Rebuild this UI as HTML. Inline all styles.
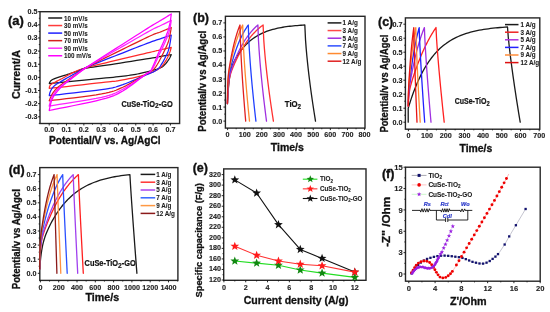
<!DOCTYPE html>
<html><head><meta charset="utf-8"><style>
html,body{margin:0;padding:0;background:#fff;}
body{width:550px;height:312px;overflow:hidden;font-family:"Liberation Sans", sans-serif;}
svg{display:block;will-change:transform;}
text{font-family:"Liberation Sans", sans-serif;font-weight:bold;}
</style></head><body>
<svg width="550" height="312" viewBox="0 0 550 312">
<rect width="550" height="312" fill="#fff"/>
<g fill="#111">
<rect x="40" y="11.7" width="139.6" height="111.8" fill="none" stroke="#262626" stroke-width="1.4"/>
<line x1="40" y1="123.37" x2="38.8" y2="123.37" stroke="#111" stroke-width="0.8"/>
<line x1="40" y1="110.23" x2="38.8" y2="110.23" stroke="#111" stroke-width="0.8"/>
<line x1="40" y1="97.09" x2="38.8" y2="97.09" stroke="#111" stroke-width="0.8"/>
<line x1="40" y1="83.96" x2="38.8" y2="83.96" stroke="#111" stroke-width="0.8"/>
<line x1="40" y1="70.82" x2="38.8" y2="70.82" stroke="#111" stroke-width="0.8"/>
<line x1="40" y1="57.68" x2="38.8" y2="57.68" stroke="#111" stroke-width="0.8"/>
<line x1="40" y1="44.54" x2="38.8" y2="44.54" stroke="#111" stroke-width="0.8"/>
<line x1="40" y1="31.41" x2="38.8" y2="31.41" stroke="#111" stroke-width="0.8"/>
<line x1="40" y1="18.27" x2="38.8" y2="18.27" stroke="#111" stroke-width="0.8"/>
<line x1="40" y1="116.8" x2="38" y2="116.8" stroke="#111" stroke-width="0.9"/>
<text x="37.6" y="119.3" font-size="7.2" fill="#222" text-anchor="end" stroke="#222" stroke-width="0.12">-0.3</text>
<line x1="40" y1="103.66" x2="38" y2="103.66" stroke="#111" stroke-width="0.9"/>
<text x="37.6" y="106.16" font-size="7.2" fill="#222" text-anchor="end" stroke="#222" stroke-width="0.12">-0.2</text>
<line x1="40" y1="90.52" x2="38" y2="90.52" stroke="#111" stroke-width="0.9"/>
<text x="37.6" y="93.02" font-size="7.2" fill="#222" text-anchor="end" stroke="#222" stroke-width="0.12">-0.1</text>
<line x1="40" y1="77.39" x2="38" y2="77.39" stroke="#111" stroke-width="0.9"/>
<text x="37.6" y="79.89" font-size="7.2" fill="#222" text-anchor="end" stroke="#222" stroke-width="0.12">0.0</text>
<line x1="40" y1="64.25" x2="38" y2="64.25" stroke="#111" stroke-width="0.9"/>
<text x="37.6" y="66.75" font-size="7.2" fill="#222" text-anchor="end" stroke="#222" stroke-width="0.12">0.1</text>
<line x1="40" y1="51.11" x2="38" y2="51.11" stroke="#111" stroke-width="0.9"/>
<text x="37.6" y="53.61" font-size="7.2" fill="#222" text-anchor="end" stroke="#222" stroke-width="0.12">0.2</text>
<line x1="40" y1="37.98" x2="38" y2="37.98" stroke="#111" stroke-width="0.9"/>
<text x="37.6" y="40.48" font-size="7.2" fill="#222" text-anchor="end" stroke="#222" stroke-width="0.12">0.3</text>
<line x1="40" y1="24.84" x2="38" y2="24.84" stroke="#111" stroke-width="0.9"/>
<text x="37.6" y="27.34" font-size="7.2" fill="#222" text-anchor="end" stroke="#222" stroke-width="0.12">0.4</text>
<line x1="40" y1="11.7" x2="38" y2="11.7" stroke="#111" stroke-width="0.9"/>
<text x="37.6" y="14.2" font-size="7.2" fill="#222" text-anchor="end" stroke="#222" stroke-width="0.12">0.5</text>
<line x1="57.86" y1="123.5" x2="57.86" y2="124.7" stroke="#111" stroke-width="0.8"/>
<line x1="75.17" y1="123.5" x2="75.17" y2="124.7" stroke="#111" stroke-width="0.8"/>
<line x1="92.49" y1="123.5" x2="92.49" y2="124.7" stroke="#111" stroke-width="0.8"/>
<line x1="109.8" y1="123.5" x2="109.8" y2="124.7" stroke="#111" stroke-width="0.8"/>
<line x1="127.11" y1="123.5" x2="127.11" y2="124.7" stroke="#111" stroke-width="0.8"/>
<line x1="144.43" y1="123.5" x2="144.43" y2="124.7" stroke="#111" stroke-width="0.8"/>
<line x1="161.74" y1="123.5" x2="161.74" y2="124.7" stroke="#111" stroke-width="0.8"/>
<line x1="49.2" y1="123.5" x2="49.2" y2="125.5" stroke="#111" stroke-width="0.9"/>
<text x="49.2" y="132.1" font-size="7.2" fill="#222" text-anchor="middle" stroke="#222" stroke-width="0.12">0.0</text>
<line x1="66.51" y1="123.5" x2="66.51" y2="125.5" stroke="#111" stroke-width="0.9"/>
<text x="66.51" y="132.1" font-size="7.2" fill="#222" text-anchor="middle" stroke="#222" stroke-width="0.12">0.1</text>
<line x1="83.83" y1="123.5" x2="83.83" y2="125.5" stroke="#111" stroke-width="0.9"/>
<text x="83.83" y="132.1" font-size="7.2" fill="#222" text-anchor="middle" stroke="#222" stroke-width="0.12">0.2</text>
<line x1="101.14" y1="123.5" x2="101.14" y2="125.5" stroke="#111" stroke-width="0.9"/>
<text x="101.14" y="132.1" font-size="7.2" fill="#222" text-anchor="middle" stroke="#222" stroke-width="0.12">0.3</text>
<line x1="118.46" y1="123.5" x2="118.46" y2="125.5" stroke="#111" stroke-width="0.9"/>
<text x="118.46" y="132.1" font-size="7.2" fill="#222" text-anchor="middle" stroke="#222" stroke-width="0.12">0.4</text>
<line x1="135.77" y1="123.5" x2="135.77" y2="125.5" stroke="#111" stroke-width="0.9"/>
<text x="135.77" y="132.1" font-size="7.2" fill="#222" text-anchor="middle" stroke="#222" stroke-width="0.12">0.5</text>
<line x1="153.09" y1="123.5" x2="153.09" y2="125.5" stroke="#111" stroke-width="0.9"/>
<text x="153.09" y="132.1" font-size="7.2" fill="#222" text-anchor="middle" stroke="#222" stroke-width="0.12">0.6</text>
<line x1="170.4" y1="123.5" x2="170.4" y2="125.5" stroke="#111" stroke-width="0.9"/>
<text x="170.4" y="132.1" font-size="7.2" fill="#222" text-anchor="middle" stroke="#222" stroke-width="0.12">0.7</text>
<text x="8" y="24.8" font-size="13" stroke="#111" stroke-width="0.35">(a)</text>
<text x="20.3" y="74.6" font-size="10.3" text-anchor="middle" transform="rotate(-90 20.3 74.6)" textLength="49" lengthAdjust="spacingAndGlyphs" stroke="#111" stroke-width="0.3">Current/A</text>
<text x="104.8" y="143.8" font-size="10" text-anchor="middle" textLength="111.5" lengthAdjust="spacingAndGlyphs" stroke="#111" stroke-width="0.3">Potential/V vs. Ag/AgCl</text>
<polyline points="49.2,83.56 49.31,83.34 49.44,83.05 49.6,82.69 49.78,82.31 49.98,81.9 50.22,81.5 50.48,81.13 50.77,80.8 51.08,80.52 51.42,80.26 51.78,80.01 52.18,79.77 52.6,79.54 53.05,79.31 53.55,79.07 54.08,78.83 54.66,78.59 55.29,78.34 55.96,78.1 56.65,77.86 57.38,77.61 58.13,77.36 58.89,77.11 59.66,76.86 60.43,76.61 61.2,76.37 61.99,76.14 62.79,75.89 63.63,75.64 64.51,75.37 65.45,75.08 66.46,74.76 67.56,74.41 68.75,74.02 70,73.61 71.29,73.18 72.6,72.75 73.91,72.32 75.18,71.89 76.4,71.48 77.47,71.08 78.35,70.69 79.15,70.31 79.98,69.93 80.92,69.55 82.08,69.15 83.57,68.75 85.47,68.32 87.76,67.89 90.32,67.47 93.15,67.05 96.23,66.61 99.54,66.14 103.07,65.65 106.82,65.11 110.76,64.51 115.19,63.83 120.25,63.04 125.7,62.19 131.28,61.31 136.75,60.45 141.85,59.64 146.35,58.92 149.99,58.34 152.71,57.89 154.7,57.54 156.14,57.28 157.2,57.07 158.02,56.9 158.79,56.74 159.66,56.57 160.8,56.37 162.2,56.13 163.69,55.88 165.21,55.63 166.71,55.39 168.12,55.16 169.39,54.96 170.46,54.79 171.27,54.66 171.11,55 170.91,55.43 170.67,55.96 170.4,56.54 170.1,57.17 169.77,57.82 169.4,58.48 169,59.13 168.56,59.79 168.09,60.5 167.58,61.24 167.04,62 166.47,62.75 165.88,63.47 165.27,64.16 164.64,64.78 164.07,65.32 163.58,65.81 163.1,66.25 162.59,66.67 161.97,67.08 161.19,67.51 160.18,67.96 158.88,68.45 157.24,69.01 155.26,69.61 153.05,70.24 150.68,70.88 148.23,71.52 145.79,72.12 143.45,72.69 141.27,73.18 139.31,73.61 137.49,73.99 135.75,74.32 134.02,74.63 132.25,74.92 130.35,75.2 128.26,75.5 125.93,75.81 123.5,76.12 121.12,76.41 118.66,76.69 116.03,76.97 113.11,77.27 109.79,77.61 105.96,77.99 101.51,78.44 95.95,78.99 89.17,79.66 81.64,80.4 73.83,81.16 66.21,81.91 59.25,82.58 53.43,83.15 49.2,83.56" fill="none" stroke="#1a1a1a" stroke-width="1.25" stroke-linejoin="round" stroke-linecap="round" />
<polyline points="49.2,88.42 49.25,88.2 49.3,87.9 49.35,87.54 49.42,87.14 49.52,86.72 49.65,86.3 49.83,85.9 50.07,85.53 50.35,85.2 50.64,84.9 50.96,84.61 51.33,84.32 51.75,84.01 52.26,83.69 52.86,83.32 53.56,82.91 54.39,82.44 55.35,81.94 56.41,81.4 57.54,80.84 58.72,80.25 59.91,79.65 61.11,79.05 62.28,78.44 63.41,77.82 64.51,77.18 65.62,76.53 66.75,75.87 67.92,75.2 69.14,74.52 70.46,73.85 71.87,73.18 73.27,72.54 74.6,71.91 75.94,71.29 77.37,70.67 78.99,70.02 80.88,69.34 83.13,68.6 85.82,67.8 89.06,66.91 92.8,65.94 96.93,64.91 101.32,63.85 105.84,62.77 110.37,61.7 114.78,60.65 118.95,59.65 123.07,58.66 127.33,57.64 131.63,56.62 135.87,55.62 139.93,54.66 143.7,53.77 147.09,52.98 149.99,52.29 152.31,51.75 154.12,51.33 155.54,51 156.68,50.73 157.66,50.51 158.6,50.3 159.61,50.07 160.8,49.8 162.2,49.48 163.69,49.14 165.21,48.8 166.71,48.46 168.12,48.14 169.39,47.86 170.46,47.62 171.27,47.43 171.15,47.84 171,48.37 170.83,49 170.63,49.7 170.41,50.47 170.15,51.28 169.85,52.11 169.52,52.95 169.16,53.82 168.78,54.76 168.37,55.73 167.92,56.75 167.43,57.77 166.9,58.81 166.32,59.83 165.69,60.83 165.03,61.83 164.39,62.84 163.71,63.85 162.98,64.87 162.17,65.87 161.23,66.85 160.15,67.8 158.88,68.72 157.46,69.6 155.92,70.46 154.25,71.29 152.45,72.1 150.52,72.89 148.45,73.66 146.24,74.42 143.89,75.15 141.29,75.89 138.41,76.62 135.34,77.34 132.16,78.04 128.95,78.71 125.8,79.34 122.79,79.9 120,80.41 117.66,80.81 115.79,81.1 114.16,81.31 112.53,81.49 110.69,81.68 108.39,81.91 105.41,82.21 101.51,82.64 96.24,83.23 89.59,83.97 82.07,84.8 74.2,85.67 66.47,86.52 59.39,87.3 53.47,87.95 49.2,88.42" fill="none" stroke="#ff2a2a" stroke-width="1.25" stroke-linejoin="round" stroke-linecap="round" />
<polyline points="49.2,95.65 49.26,95.39 49.33,95.05 49.41,94.64 49.51,94.19 49.62,93.7 49.75,93.2 49.9,92.71 50.07,92.23 50.27,91.76 50.48,91.27 50.71,90.77 50.97,90.26 51.24,89.75 51.53,89.25 51.84,88.76 52.16,88.29 52.51,87.84 52.86,87.4 53.23,86.97 53.61,86.54 54.03,86.12 54.47,85.71 54.96,85.29 55.48,84.88 56.04,84.46 56.65,84.06 57.28,83.67 57.95,83.27 58.65,82.88 59.37,82.46 60.12,82.04 60.88,81.59 61.67,81.12 62.48,80.64 63.32,80.15 64.17,79.65 65.06,79.13 65.97,78.6 66.9,78.06 67.86,77.52 68.84,76.97 69.84,76.4 70.86,75.83 71.91,75.25 72.99,74.66 74.1,74.05 75.23,73.43 76.4,72.79 77.47,72.18 78.38,71.61 79.24,71.05 80.16,70.47 81.27,69.82 82.68,69.07 84.51,68.19 86.87,67.14 89.85,65.88 93.39,64.44 97.36,62.85 101.62,61.17 106.05,59.44 110.5,57.7 114.84,56.01 118.95,54.4 123.02,52.8 127.26,51.13 131.56,49.45 135.8,47.79 139.88,46.2 143.68,44.73 147.09,43.41 149.99,42.31 152.31,41.45 154.12,40.8 155.54,40.31 156.68,39.94 157.66,39.63 158.6,39.35 159.61,39.03 160.8,38.63 162.2,38.16 163.69,37.65 165.21,37.14 166.71,36.63 168.12,36.15 169.39,35.72 170.46,35.36 171.27,35.08 171.18,35.71 171.07,36.54 170.94,37.52 170.79,38.62 170.63,39.78 170.45,40.97 170.25,42.13 170.05,43.23 169.84,44.27 169.65,45.3 169.45,46.33 169.23,47.38 168.98,48.44 168.68,49.55 168.31,50.69 167.87,51.9 167.32,53.21 166.69,54.62 165.99,56.09 165.24,57.59 164.47,59.08 163.69,60.51 162.93,61.86 162.2,63.07 161.55,64.15 160.96,65.13 160.41,66.04 159.85,66.89 159.23,67.69 158.51,68.47 157.66,69.25 156.62,70.03 155.45,70.78 154.2,71.46 152.86,72.11 151.4,72.74 149.79,73.4 148.02,74.11 146.06,74.9 143.89,75.81 141.4,76.89 138.57,78.13 135.51,79.47 132.3,80.85 129.05,82.22 125.85,83.52 122.8,84.69 120,85.66 117.66,86.43 115.79,87.02 114.16,87.48 112.53,87.87 110.69,88.23 108.39,88.61 105.41,89.05 101.51,89.61 96.24,90.3 89.59,91.11 82.07,91.98 74.2,92.87 66.47,93.73 59.39,94.51 53.47,95.17 49.2,95.65" fill="none" stroke="#1f1fff" stroke-width="1.25" stroke-linejoin="round" stroke-linecap="round" />
<polyline points="49.2,100.77 49.31,100.48 49.46,100.11 49.63,99.66 49.82,99.16 50.04,98.63 50.27,98.07 50.51,97.51 50.77,96.96 51.04,96.41 51.31,95.84 51.6,95.25 51.91,94.65 52.24,94.04 52.6,93.43 52.98,92.82 53.39,92.23 53.82,91.65 54.28,91.08 54.76,90.5 55.26,89.93 55.79,89.36 56.35,88.79 56.94,88.21 57.57,87.63 58.22,87.06 58.87,86.51 59.55,85.96 60.26,85.41 61.02,84.84 61.83,84.24 62.71,83.6 63.67,82.91 64.71,82.17 65.81,81.39 66.97,80.59 68.2,79.75 69.47,78.88 70.81,77.98 72.19,77.04 73.61,76.07 74.98,75.11 76.25,74.15 77.51,73.19 78.86,72.18 80.37,71.1 82.15,69.92 84.29,68.61 86.87,67.14 89.98,65.47 93.59,63.61 97.56,61.61 101.8,59.51 106.17,57.37 110.56,55.22 114.86,53.12 118.95,51.11 123.02,49.11 127.26,47.02 131.56,44.9 135.8,42.82 139.88,40.83 143.68,38.99 147.09,37.36 149.99,36 152.31,34.96 154.12,34.19 155.54,33.64 156.68,33.23 157.66,32.91 158.6,32.61 159.61,32.26 160.8,31.8 162.2,31.24 163.69,30.62 165.21,29.99 166.71,29.37 168.12,28.78 169.39,28.25 170.46,27.8 171.27,27.46 171.16,28.07 171.03,28.88 170.88,29.84 170.7,30.91 170.51,32.05 170.3,33.19 170.09,34.31 169.87,35.35 169.67,36.3 169.49,37.19 169.31,38.07 169.12,38.96 168.89,39.89 168.6,40.89 168.24,41.99 167.78,43.23 167.21,44.63 166.55,46.18 165.82,47.83 165.03,49.55 164.2,51.31 163.36,53.05 162.51,54.75 161.67,56.37 160.85,57.95 160.01,59.56 159.16,61.17 158.3,62.76 157.42,64.28 156.53,65.71 155.62,67.02 154.7,68.19 153.87,69.13 153.18,69.83 152.53,70.37 151.84,70.84 151.02,71.33 149.98,71.91 148.62,72.68 146.85,73.71 144.6,75.06 141.91,76.69 138.89,78.5 135.66,80.4 132.32,82.31 128.99,84.15 125.77,85.82 122.79,87.24 120.21,88.4 118,89.39 115.97,90.25 113.92,91.01 111.64,91.72 108.95,92.42 105.64,93.14 101.51,93.94 96.1,94.84 89.39,95.8 81.87,96.79 74.03,97.78 66.35,98.71 59.33,99.54 53.45,100.24 49.2,100.77" fill="none" stroke="#e01e1e" stroke-width="1.25" stroke-linejoin="round" stroke-linecap="round" />
<polyline points="49.2,106.03 49.34,105.48 49.53,104.73 49.75,103.84 50,102.86 50.26,101.84 50.54,100.83 50.83,99.89 51.12,99.06 51.4,98.35 51.69,97.68 51.98,97.05 52.28,96.45 52.61,95.87 52.95,95.28 53.33,94.69 53.73,94.07 54.17,93.44 54.63,92.8 55.12,92.15 55.63,91.51 56.17,90.87 56.73,90.22 57.31,89.58 57.92,88.95 58.56,88.32 59.22,87.69 59.92,87.07 60.63,86.44 61.37,85.82 62.12,85.2 62.89,84.58 63.67,83.96 64.41,83.38 65.08,82.87 65.73,82.38 66.41,81.89 67.18,81.34 68.08,80.69 69.16,79.91 70.47,78.96 71.96,77.86 73.53,76.65 75.23,75.33 77.09,73.91 79.15,72.37 81.44,70.74 84,68.99 86.87,67.14 90.13,65.13 93.81,62.94 97.79,60.6 101.99,58.18 106.31,55.71 110.64,53.24 114.88,50.82 118.95,48.48 123.02,46.14 127.26,43.69 131.56,41.22 135.8,38.78 139.88,36.45 143.68,34.28 147.09,32.36 149.99,30.75 152.31,29.49 154.12,28.56 155.54,27.86 156.68,27.33 157.66,26.91 158.6,26.51 159.61,26.06 160.8,25.49 162.2,24.81 163.69,24.08 165.21,23.34 166.71,22.6 168.12,21.91 169.39,21.29 170.46,20.77 171.27,20.37 171.17,21.01 171.05,21.86 170.91,22.87 170.75,24 170.57,25.2 170.36,26.42 170.13,27.63 169.87,28.78 169.6,29.85 169.33,30.88 169.05,31.91 168.74,32.96 168.38,34.06 167.97,35.24 167.48,36.54 166.91,37.98 166.23,39.58 165.46,41.32 164.61,43.18 163.7,45.12 162.76,47.11 161.81,49.12 160.86,51.12 159.93,53.08 159.01,55.1 158.06,57.23 157.09,59.42 156.12,61.6 155.15,63.7 154.21,65.65 153.3,67.39 152.43,68.85 151.74,69.92 151.26,70.61 150.88,71.05 150.48,71.37 149.96,71.68 149.2,72.12 148.09,72.79 146.5,73.84 144.37,75.31 141.77,77.12 138.81,79.16 135.61,81.33 132.28,83.52 128.96,85.63 125.76,87.56 122.79,89.21 120.22,90.57 118.03,91.74 116,92.77 113.94,93.7 111.66,94.58 108.96,95.45 105.64,96.36 101.51,97.36 96.1,98.47 89.39,99.69 81.87,100.95 74.03,102.2 66.35,103.39 59.33,104.46 53.45,105.35 49.2,106.03" fill="none" stroke="#ff22ff" stroke-width="1.25" stroke-linejoin="round" stroke-linecap="round" />
<polyline points="49.2,110.49 49.37,109.74 49.6,108.7 49.87,107.46 50.17,106.1 50.49,104.7 50.82,103.34 51.15,102.09 51.47,101.03 51.77,100.17 52.06,99.4 52.35,98.72 52.65,98.09 52.97,97.49 53.31,96.9 53.68,96.29 54.08,95.65 54.52,94.98 54.99,94.3 55.48,93.63 56,92.96 56.54,92.28 57.1,91.61 57.68,90.94 58.27,90.26 58.88,89.59 59.5,88.92 60.14,88.24 60.81,87.57 61.49,86.9 62.2,86.22 62.92,85.55 63.67,84.88 64.39,84.25 65.05,83.69 65.7,83.16 66.39,82.62 67.16,82.02 68.07,81.33 69.16,80.5 70.47,79.49 71.96,78.34 73.53,77.09 75.23,75.73 77.09,74.27 79.15,72.68 81.44,70.97 84,69.13 86.87,67.14 90.13,64.95 93.81,62.54 97.79,59.97 101.99,57.29 106.31,54.55 110.64,51.8 114.88,49.11 118.95,46.51 123.02,43.92 127.26,41.21 131.56,38.47 135.8,35.77 139.88,33.19 143.68,30.78 147.09,28.63 149.99,26.81 152.31,25.37 154.12,24.27 155.54,23.42 156.68,22.76 157.66,22.2 158.6,21.67 159.61,21.08 160.8,20.37 162.2,19.52 163.69,18.61 165.21,17.67 166.71,16.75 168.12,15.88 169.39,15.09 170.46,14.43 171.27,13.93 171.17,14.66 171.06,15.61 170.93,16.74 170.78,18.01 170.6,19.36 170.39,20.76 170.15,22.17 169.87,23.52 169.57,24.83 169.26,26.14 168.93,27.45 168.56,28.81 168.14,30.23 167.66,31.73 167.1,33.34 166.45,35.08 165.69,36.99 164.82,39.04 163.86,41.2 162.85,43.45 161.8,45.75 160.74,48.05 159.7,50.33 158.71,52.56 157.73,54.83 156.73,57.24 155.71,59.7 154.71,62.13 153.72,64.46 152.77,66.6 151.87,68.49 151.04,70.03 150.4,71.09 150.01,71.69 149.75,71.98 149.48,72.11 149.09,72.23 148.46,72.5 147.46,73.08 145.98,74.1 143.94,75.65 141.41,77.61 138.53,79.84 135.4,82.23 132.14,84.66 128.88,87 125.72,89.13 122.79,90.92 120.25,92.37 118.06,93.58 116.03,94.62 113.97,95.55 111.68,96.44 108.97,97.34 105.65,98.33 101.51,99.46 96.1,100.79 89.39,102.3 81.87,103.9 74.03,105.51 66.35,107.05 59.33,108.45 53.45,109.63 49.2,110.49" fill="none" stroke="#ff00ff" stroke-width="1.25" stroke-linejoin="round" stroke-linecap="round" />
<line x1="48.2" y1="18" x2="62.2" y2="18" stroke="#1a1a1a" stroke-width="1.5"/>
<text x="64" y="20.6" font-size="6.7" fill="#222" textLength="23.82" lengthAdjust="spacingAndGlyphs" stroke="#222" stroke-width="0.08">10 mV/s</text>
<line x1="48.2" y1="25.55" x2="62.2" y2="25.55" stroke="#ff3b3b" stroke-width="1.5"/>
<text x="64" y="28.15" font-size="6.7" fill="#222" textLength="23.82" lengthAdjust="spacingAndGlyphs" stroke="#222" stroke-width="0.08">30 mV/s</text>
<line x1="48.2" y1="33.1" x2="62.2" y2="33.1" stroke="#1f1fff" stroke-width="1.5"/>
<text x="64" y="35.7" font-size="6.7" fill="#222" textLength="23.82" lengthAdjust="spacingAndGlyphs" stroke="#222" stroke-width="0.08">50 mV/s</text>
<line x1="48.2" y1="40.65" x2="62.2" y2="40.65" stroke="#d42020" stroke-width="1.5"/>
<text x="64" y="43.25" font-size="6.7" fill="#222" textLength="23.82" lengthAdjust="spacingAndGlyphs" stroke="#222" stroke-width="0.08">70 mV/s</text>
<line x1="48.2" y1="48.2" x2="62.2" y2="48.2" stroke="#ff33ff" stroke-width="1.5"/>
<text x="64" y="50.8" font-size="6.7" fill="#222" textLength="23.82" lengthAdjust="spacingAndGlyphs" stroke="#222" stroke-width="0.08">90 mV/s</text>
<line x1="48.2" y1="55.75" x2="62.2" y2="55.75" stroke="#ff00ff" stroke-width="1.5"/>
<text x="64" y="58.35" font-size="6.7" fill="#222" textLength="27.32" lengthAdjust="spacingAndGlyphs" stroke="#222" stroke-width="0.08">100 mV/s</text>
<text x="121.5" y="106.5" font-size="8.2" textLength="51.2" lengthAdjust="spacingAndGlyphs" stroke="#111" stroke-width="0.22">CuSe-TiO<tspan dy="1.6" font-size="7.4">2</tspan><tspan dy="-1.6">-GO</tspan></text>
<rect x="225.4" y="16.3" width="139.6" height="111.8" fill="none" stroke="#262626" stroke-width="1.4"/>
<line x1="225.4" y1="114.09" x2="224.2" y2="114.09" stroke="#111" stroke-width="0.8"/>
<line x1="225.4" y1="100.06" x2="224.2" y2="100.06" stroke="#111" stroke-width="0.8"/>
<line x1="225.4" y1="86.03" x2="224.2" y2="86.03" stroke="#111" stroke-width="0.8"/>
<line x1="225.4" y1="72" x2="224.2" y2="72" stroke="#111" stroke-width="0.8"/>
<line x1="225.4" y1="57.97" x2="224.2" y2="57.97" stroke="#111" stroke-width="0.8"/>
<line x1="225.4" y1="43.94" x2="224.2" y2="43.94" stroke="#111" stroke-width="0.8"/>
<line x1="225.4" y1="29.91" x2="224.2" y2="29.91" stroke="#111" stroke-width="0.8"/>
<line x1="225.4" y1="121.1" x2="223.4" y2="121.1" stroke="#111" stroke-width="0.9"/>
<text x="222.3" y="123.6" font-size="7.2" fill="#222" text-anchor="end" stroke="#222" stroke-width="0.12">0.0</text>
<line x1="225.4" y1="107.07" x2="223.4" y2="107.07" stroke="#111" stroke-width="0.9"/>
<text x="222.3" y="109.57" font-size="7.2" fill="#222" text-anchor="end" stroke="#222" stroke-width="0.12">0.1</text>
<line x1="225.4" y1="93.04" x2="223.4" y2="93.04" stroke="#111" stroke-width="0.9"/>
<text x="222.3" y="95.54" font-size="7.2" fill="#222" text-anchor="end" stroke="#222" stroke-width="0.12">0.2</text>
<line x1="225.4" y1="79.01" x2="223.4" y2="79.01" stroke="#111" stroke-width="0.9"/>
<text x="222.3" y="81.51" font-size="7.2" fill="#222" text-anchor="end" stroke="#222" stroke-width="0.12">0.3</text>
<line x1="225.4" y1="64.99" x2="223.4" y2="64.99" stroke="#111" stroke-width="0.9"/>
<text x="222.3" y="67.49" font-size="7.2" fill="#222" text-anchor="end" stroke="#222" stroke-width="0.12">0.4</text>
<line x1="225.4" y1="50.96" x2="223.4" y2="50.96" stroke="#111" stroke-width="0.9"/>
<text x="222.3" y="53.46" font-size="7.2" fill="#222" text-anchor="end" stroke="#222" stroke-width="0.12">0.5</text>
<line x1="225.4" y1="36.93" x2="223.4" y2="36.93" stroke="#111" stroke-width="0.9"/>
<text x="222.3" y="39.43" font-size="7.2" fill="#222" text-anchor="end" stroke="#222" stroke-width="0.12">0.6</text>
<line x1="225.4" y1="22.9" x2="223.4" y2="22.9" stroke="#111" stroke-width="0.9"/>
<text x="222.3" y="25.4" font-size="7.2" fill="#222" text-anchor="end" stroke="#222" stroke-width="0.12">0.7</text>
<line x1="236.16" y1="128.1" x2="236.16" y2="129.3" stroke="#111" stroke-width="0.8"/>
<line x1="253.29" y1="128.1" x2="253.29" y2="129.3" stroke="#111" stroke-width="0.8"/>
<line x1="270.41" y1="128.1" x2="270.41" y2="129.3" stroke="#111" stroke-width="0.8"/>
<line x1="287.54" y1="128.1" x2="287.54" y2="129.3" stroke="#111" stroke-width="0.8"/>
<line x1="304.66" y1="128.1" x2="304.66" y2="129.3" stroke="#111" stroke-width="0.8"/>
<line x1="321.79" y1="128.1" x2="321.79" y2="129.3" stroke="#111" stroke-width="0.8"/>
<line x1="338.91" y1="128.1" x2="338.91" y2="129.3" stroke="#111" stroke-width="0.8"/>
<line x1="356.04" y1="128.1" x2="356.04" y2="129.3" stroke="#111" stroke-width="0.8"/>
<line x1="227.6" y1="128.1" x2="227.6" y2="130.1" stroke="#111" stroke-width="0.9"/>
<text x="227.6" y="136.7" font-size="7.2" fill="#222" text-anchor="middle" stroke="#222" stroke-width="0.12">0</text>
<line x1="244.72" y1="128.1" x2="244.72" y2="130.1" stroke="#111" stroke-width="0.9"/>
<text x="244.72" y="136.7" font-size="7.2" fill="#222" text-anchor="middle" stroke="#222" stroke-width="0.12">100</text>
<line x1="261.85" y1="128.1" x2="261.85" y2="130.1" stroke="#111" stroke-width="0.9"/>
<text x="261.85" y="136.7" font-size="7.2" fill="#222" text-anchor="middle" stroke="#222" stroke-width="0.12">200</text>
<line x1="278.98" y1="128.1" x2="278.98" y2="130.1" stroke="#111" stroke-width="0.9"/>
<text x="278.98" y="136.7" font-size="7.2" fill="#222" text-anchor="middle" stroke="#222" stroke-width="0.12">300</text>
<line x1="296.1" y1="128.1" x2="296.1" y2="130.1" stroke="#111" stroke-width="0.9"/>
<text x="296.1" y="136.7" font-size="7.2" fill="#222" text-anchor="middle" stroke="#222" stroke-width="0.12">400</text>
<line x1="313.23" y1="128.1" x2="313.23" y2="130.1" stroke="#111" stroke-width="0.9"/>
<text x="313.23" y="136.7" font-size="7.2" fill="#222" text-anchor="middle" stroke="#222" stroke-width="0.12">500</text>
<line x1="330.35" y1="128.1" x2="330.35" y2="130.1" stroke="#111" stroke-width="0.9"/>
<text x="330.35" y="136.7" font-size="7.2" fill="#222" text-anchor="middle" stroke="#222" stroke-width="0.12">600</text>
<line x1="347.48" y1="128.1" x2="347.48" y2="130.1" stroke="#111" stroke-width="0.9"/>
<text x="347.48" y="136.7" font-size="7.2" fill="#222" text-anchor="middle" stroke="#222" stroke-width="0.12">700</text>
<line x1="364.6" y1="128.1" x2="364.6" y2="130.1" stroke="#111" stroke-width="0.9"/>
<text x="364.6" y="136.7" font-size="7.2" fill="#222" text-anchor="middle" stroke="#222" stroke-width="0.12">800</text>
<text x="193" y="21.6" font-size="12.5" stroke="#111" stroke-width="0.35">(b)</text>
<text x="206.5" y="81.2" font-size="10" text-anchor="middle" transform="rotate(-90 206.5 81.2)" textLength="101" lengthAdjust="spacingAndGlyphs" stroke="#111" stroke-width="0.3">Potential/v vs Ag/Agcl</text>
<text x="287.3" y="150.7" font-size="10.4" text-anchor="middle" textLength="33.1" lengthAdjust="spacingAndGlyphs" stroke="#111" stroke-width="0.3">Time/s</text>
<text x="284.8" y="106.6" font-size="8.7" textLength="16.3" lengthAdjust="spacingAndGlyphs" stroke="#111" stroke-width="0.22">TiO<tspan dy="1.9" font-size="7">2</tspan></text>
<polyline points="227.43,103.56 227.6,100.3 227.9,95.06 228.29,89.46 228.76,84.18 229.29,79.52 229.88,75.54 230.51,72.19 231.2,69.36 231.93,66.93 232.7,64.79 233.5,62.85 234.35,61.05 235.24,59.35 236.15,57.71 237.1,56.12 238.09,54.58 239.1,53.07 240.15,51.61 241.22,50.18 242.33,48.79 243.46,47.44 244.61,46.13 245.8,44.87 247.01,43.66 248.25,42.49 249.51,41.37 250.79,40.3 252.11,39.28 253.44,38.3 254.8,37.37 256.18,36.48 257.58,35.64 259,34.84 260.45,34.09 261.91,33.38 263.4,32.71 264.91,32.07 266.44,31.48 267.99,30.92 269.56,30.39 271.15,29.9 272.76,29.44 274.39,29.01 276.04,28.61 277.7,28.24 279.39,27.89 281.09,27.56 282.82,27.26 284.56,26.98 286.31,26.72 288.09,26.48 289.88,26.26 291.69,26.05 293.52,25.87 295.36,25.69 297.22,25.53 299.1,25.38 301,25.24 302.91,25.12 304.83,25 305.5,39.59 306.17,48.37 306.83,55.79 307.5,62.44 308.17,68.58 308.83,74.33 309.5,79.78 310.17,84.98 310.83,89.99 311.5,94.81 312.17,99.49 312.83,104.03 313.5,108.45 314.17,112.76 314.83,116.97 315.5,121.1" fill="none" stroke="#1a1a1a" stroke-width="1.3" stroke-linejoin="round" stroke-linecap="round" />
<polyline points="227.43,103.56 227.51,101.57 227.65,98.3 227.83,94.67 228.04,91.11 228.29,87.83 228.56,84.92 228.85,82.39 229.17,80.22 229.5,78.33 229.86,76.68 230.23,75.2 230.62,73.83 231.03,72.55 231.45,71.33 231.89,70.13 232.34,68.95 232.81,67.78 233.29,66.6 233.79,65.43 234.29,64.26 234.81,63.08 235.35,61.9 235.89,60.72 236.45,59.54 237.02,58.36 237.6,57.19 238.2,56.01 238.8,54.85 239.42,53.69 240.04,52.54 240.68,51.4 241.32,50.27 241.98,49.16 242.65,48.05 243.32,46.96 244.01,45.88 244.7,44.81 245.41,43.76 246.12,42.72 246.85,41.7 247.58,40.7 248.32,39.71 249.07,38.74 249.83,37.79 250.6,36.86 251.37,35.94 252.16,35.04 252.95,34.16 253.75,33.29 254.56,32.45 255.38,31.62 256.21,30.81 257.04,30.02 257.89,29.25 258.74,28.5 259.59,27.77 260.46,27.05 261.33,26.35 262.21,25.67 263.1,25 263.74,39.59 264.39,48.37 265.03,55.79 265.68,62.44 266.32,68.58 266.96,74.33 267.61,79.78 268.25,84.98 268.89,89.99 269.54,94.81 270.18,99.49 270.82,104.03 271.47,108.45 272.11,112.76 272.76,116.97 273.4,121.1" fill="none" stroke="#ff3030" stroke-width="1.3" stroke-linejoin="round" stroke-linecap="round" />
<polyline points="227.43,103.56 227.49,101.57 227.61,98.3 227.77,94.67 227.95,91.11 228.16,87.83 228.39,84.92 228.64,82.39 228.91,80.22 229.2,78.33 229.5,76.68 229.82,75.2 230.15,73.83 230.5,72.55 230.86,71.33 231.24,70.13 231.62,68.95 232.02,67.78 232.44,66.6 232.86,65.43 233.29,64.26 233.74,63.08 234.19,61.9 234.66,60.72 235.14,59.54 235.62,58.36 236.12,57.19 236.63,56.01 237.14,54.85 237.67,53.69 238.2,52.54 238.75,51.4 239.3,50.27 239.86,49.16 240.43,48.05 241,46.96 241.59,45.88 242.18,44.81 242.79,43.76 243.4,42.72 244.02,41.7 244.64,40.7 245.27,39.71 245.92,38.74 246.56,37.79 247.22,36.86 247.88,35.94 248.55,35.04 249.23,34.16 249.92,33.29 250.61,32.45 251.31,31.62 252.01,30.81 252.73,30.02 253.45,29.25 254.17,28.5 254.9,27.77 255.64,27.05 256.39,26.35 257.14,25.67 257.9,25 258.44,39.59 258.97,48.37 259.51,55.79 260.05,62.44 260.59,68.58 261.12,74.33 261.66,79.78 262.2,84.98 262.74,89.99 263.27,94.81 263.81,99.49 264.35,104.03 264.89,108.45 265.43,112.76 265.96,116.97 266.5,121.1" fill="none" stroke="#a030e0" stroke-width="1.3" stroke-linejoin="round" stroke-linecap="round" />
<polyline points="227.43,103.56 227.47,101.49 227.56,98.1 227.66,94.35 227.79,90.68 227.93,87.33 228.09,84.37 228.26,81.82 228.44,79.65 228.64,77.79 228.85,76.18 229.07,74.75 229.3,73.45 229.53,72.24 229.78,71.09 230.04,69.97 230.3,68.87 230.58,67.77 230.86,66.67 231.15,65.57 231.45,64.47 231.75,63.36 232.06,62.24 232.38,61.13 232.71,60 233.04,58.88 233.38,57.76 233.73,56.63 234.08,55.51 234.44,54.4 234.81,53.28 235.18,52.17 235.56,51.07 235.94,49.97 236.33,48.89 236.73,47.81 237.13,46.74 237.54,45.68 237.95,44.63 238.37,43.59 238.79,42.56 239.22,41.54 239.65,40.54 240.09,39.55 240.54,38.58 240.99,37.62 241.44,36.67 241.9,35.74 242.36,34.82 242.83,33.92 243.31,33.03 243.78,32.16 244.27,31.3 244.76,30.46 245.25,29.63 245.75,28.82 246.25,28.03 246.75,27.25 247.27,26.48 247.78,25.74 248.3,25 248.78,39.59 249.25,48.37 249.73,55.79 250.2,62.44 250.68,68.58 251.15,74.33 251.62,79.78 252.1,84.98 252.58,89.99 253.05,94.81 253.53,99.49 254,104.03 254.48,108.45 254.95,112.76 255.43,116.97 255.9,121.1" fill="none" stroke="#2040ff" stroke-width="1.3" stroke-linejoin="round" stroke-linecap="round" />
<polyline points="227.43,103.56 227.46,101.44 227.52,97.97 227.6,94.13 227.69,90.39 227.8,86.98 227.91,83.98 228.04,81.41 228.17,79.23 228.32,77.38 228.47,75.79 228.63,74.38 228.79,73.12 228.97,71.94 229.15,70.83 229.34,69.74 229.53,68.68 229.73,67.62 229.94,66.57 230.15,65.51 230.37,64.44 230.59,63.37 230.82,62.29 231.05,61.2 231.29,60.12 231.54,59.02 231.78,57.93 232.04,56.83 232.3,55.74 232.56,54.64 232.83,53.55 233.1,52.46 233.38,51.38 233.66,50.3 233.94,49.22 234.23,48.15 234.53,47.09 234.82,46.04 235.13,45 235.43,43.96 235.74,42.93 236.06,41.92 236.37,40.91 236.69,39.92 237.02,38.93 237.35,37.96 237.68,37.01 238.02,36.06 238.36,35.13 238.7,34.21 239.05,33.3 239.4,32.41 239.75,31.53 240.11,30.66 240.47,29.81 240.83,28.97 241.2,28.15 241.57,27.34 241.94,26.55 242.32,25.77 242.7,25 243.12,39.59 243.55,48.37 243.97,55.79 244.4,62.44 244.82,68.58 245.25,74.33 245.68,79.78 246.1,84.98 246.53,89.99 246.95,94.81 247.38,99.49 247.8,104.03 248.22,108.45 248.65,112.76 249.07,116.97 249.5,121.1" fill="none" stroke="#ff8a30" stroke-width="1.3" stroke-linejoin="round" stroke-linecap="round" />
<polyline points="227.43,103.56 227.46,101.44 227.51,97.97 227.57,94.13 227.65,90.39 227.73,86.98 227.83,83.98 227.93,81.41 228.04,79.23 228.16,77.38 228.28,75.79 228.42,74.38 228.55,73.12 228.7,71.94 228.85,70.83 229,69.74 229.16,68.68 229.32,67.62 229.49,66.57 229.67,65.51 229.85,64.44 230.03,63.37 230.22,62.29 230.41,61.2 230.61,60.12 230.81,59.02 231.01,57.93 231.22,56.83 231.44,55.74 231.65,54.64 231.87,53.55 232.1,52.46 232.33,51.38 232.56,50.3 232.79,49.22 233.03,48.15 233.27,47.09 233.52,46.04 233.76,45 234.02,43.96 234.27,42.93 234.53,41.92 234.79,40.91 235.06,39.92 235.32,38.93 235.59,37.96 235.87,37.01 236.14,36.06 236.42,35.13 236.71,34.21 236.99,33.3 237.28,32.41 237.57,31.53 237.87,30.66 238.16,29.81 238.46,28.97 238.76,28.15 239.07,27.34 239.38,26.55 239.69,25.77 240,25 240.36,39.59 240.71,48.37 241.07,55.79 241.43,62.44 241.78,68.58 242.14,74.33 242.49,79.78 242.85,84.98 243.21,89.99 243.56,94.81 243.92,99.49 244.28,104.03 244.63,108.45 244.99,112.76 245.34,116.97 245.7,121.1" fill="none" stroke="#e02020" stroke-width="1.3" stroke-linejoin="round" stroke-linecap="round" />
<line x1="327.6" y1="22.9" x2="341.4" y2="22.9" stroke="#1a1a1a" stroke-width="1.5"/>
<text x="342.6" y="25.2" font-size="6.7" fill="#222" textLength="15.17" lengthAdjust="spacingAndGlyphs" stroke="#222" stroke-width="0.08">1 A/g</text>
<line x1="327.6" y1="30.56" x2="341.4" y2="30.56" stroke="#ff4a4a" stroke-width="1.5"/>
<text x="342.6" y="32.86" font-size="6.7" fill="#222" textLength="15.17" lengthAdjust="spacingAndGlyphs" stroke="#222" stroke-width="0.08">3 A/g</text>
<line x1="327.6" y1="38.22" x2="341.4" y2="38.22" stroke="#a030e0" stroke-width="1.5"/>
<text x="342.6" y="40.52" font-size="6.7" fill="#222" textLength="15.17" lengthAdjust="spacingAndGlyphs" stroke="#222" stroke-width="0.08">5 A/g</text>
<line x1="327.6" y1="45.88" x2="341.4" y2="45.88" stroke="#2f4fff" stroke-width="1.5"/>
<text x="342.6" y="48.18" font-size="6.7" fill="#222" textLength="15.17" lengthAdjust="spacingAndGlyphs" stroke="#222" stroke-width="0.08">7 A/g</text>
<line x1="327.6" y1="53.54" x2="341.4" y2="53.54" stroke="#ff8a30" stroke-width="1.5"/>
<text x="342.6" y="55.84" font-size="6.7" fill="#222" textLength="15.17" lengthAdjust="spacingAndGlyphs" stroke="#222" stroke-width="0.08">9 A/g</text>
<line x1="327.6" y1="61.2" x2="341.4" y2="61.2" stroke="#e02020" stroke-width="1.5"/>
<text x="342.6" y="63.5" font-size="6.7" fill="#222" textLength="18.67" lengthAdjust="spacingAndGlyphs" stroke="#222" stroke-width="0.08">12 A/g</text>
<rect x="405.4" y="17.9" width="134.4" height="111.3" fill="none" stroke="#262626" stroke-width="1.4"/>
<line x1="405.4" y1="115.2" x2="404.2" y2="115.2" stroke="#111" stroke-width="0.8"/>
<line x1="405.4" y1="101.2" x2="404.2" y2="101.2" stroke="#111" stroke-width="0.8"/>
<line x1="405.4" y1="87.2" x2="404.2" y2="87.2" stroke="#111" stroke-width="0.8"/>
<line x1="405.4" y1="73.2" x2="404.2" y2="73.2" stroke="#111" stroke-width="0.8"/>
<line x1="405.4" y1="59.2" x2="404.2" y2="59.2" stroke="#111" stroke-width="0.8"/>
<line x1="405.4" y1="45.2" x2="404.2" y2="45.2" stroke="#111" stroke-width="0.8"/>
<line x1="405.4" y1="31.2" x2="404.2" y2="31.2" stroke="#111" stroke-width="0.8"/>
<line x1="405.4" y1="122.2" x2="403.4" y2="122.2" stroke="#111" stroke-width="0.9"/>
<text x="402.5" y="124.7" font-size="7.2" fill="#222" text-anchor="end" stroke="#222" stroke-width="0.12">0.0</text>
<line x1="405.4" y1="108.2" x2="403.4" y2="108.2" stroke="#111" stroke-width="0.9"/>
<text x="402.5" y="110.7" font-size="7.2" fill="#222" text-anchor="end" stroke="#222" stroke-width="0.12">0.1</text>
<line x1="405.4" y1="94.2" x2="403.4" y2="94.2" stroke="#111" stroke-width="0.9"/>
<text x="402.5" y="96.7" font-size="7.2" fill="#222" text-anchor="end" stroke="#222" stroke-width="0.12">0.2</text>
<line x1="405.4" y1="80.2" x2="403.4" y2="80.2" stroke="#111" stroke-width="0.9"/>
<text x="402.5" y="82.7" font-size="7.2" fill="#222" text-anchor="end" stroke="#222" stroke-width="0.12">0.3</text>
<line x1="405.4" y1="66.2" x2="403.4" y2="66.2" stroke="#111" stroke-width="0.9"/>
<text x="402.5" y="68.7" font-size="7.2" fill="#222" text-anchor="end" stroke="#222" stroke-width="0.12">0.4</text>
<line x1="405.4" y1="52.2" x2="403.4" y2="52.2" stroke="#111" stroke-width="0.9"/>
<text x="402.5" y="54.7" font-size="7.2" fill="#222" text-anchor="end" stroke="#222" stroke-width="0.12">0.5</text>
<line x1="405.4" y1="38.2" x2="403.4" y2="38.2" stroke="#111" stroke-width="0.9"/>
<text x="402.5" y="40.7" font-size="7.2" fill="#222" text-anchor="end" stroke="#222" stroke-width="0.12">0.6</text>
<line x1="405.4" y1="24.2" x2="403.4" y2="24.2" stroke="#111" stroke-width="0.9"/>
<text x="402.5" y="26.7" font-size="7.2" fill="#222" text-anchor="end" stroke="#222" stroke-width="0.12">0.7</text>
<line x1="417.74" y1="129.2" x2="417.74" y2="130.4" stroke="#111" stroke-width="0.8"/>
<line x1="436.43" y1="129.2" x2="436.43" y2="130.4" stroke="#111" stroke-width="0.8"/>
<line x1="455.11" y1="129.2" x2="455.11" y2="130.4" stroke="#111" stroke-width="0.8"/>
<line x1="473.8" y1="129.2" x2="473.8" y2="130.4" stroke="#111" stroke-width="0.8"/>
<line x1="492.49" y1="129.2" x2="492.49" y2="130.4" stroke="#111" stroke-width="0.8"/>
<line x1="511.17" y1="129.2" x2="511.17" y2="130.4" stroke="#111" stroke-width="0.8"/>
<line x1="529.86" y1="129.2" x2="529.86" y2="130.4" stroke="#111" stroke-width="0.8"/>
<line x1="408.4" y1="129.2" x2="408.4" y2="131.2" stroke="#111" stroke-width="0.9"/>
<text x="408.4" y="137.9" font-size="7.2" fill="#222" text-anchor="middle" stroke="#222" stroke-width="0.12">0</text>
<line x1="427.09" y1="129.2" x2="427.09" y2="131.2" stroke="#111" stroke-width="0.9"/>
<text x="427.09" y="137.9" font-size="7.2" fill="#222" text-anchor="middle" stroke="#222" stroke-width="0.12">100</text>
<line x1="445.77" y1="129.2" x2="445.77" y2="131.2" stroke="#111" stroke-width="0.9"/>
<text x="445.77" y="137.9" font-size="7.2" fill="#222" text-anchor="middle" stroke="#222" stroke-width="0.12">200</text>
<line x1="464.46" y1="129.2" x2="464.46" y2="131.2" stroke="#111" stroke-width="0.9"/>
<text x="464.46" y="137.9" font-size="7.2" fill="#222" text-anchor="middle" stroke="#222" stroke-width="0.12">300</text>
<line x1="483.14" y1="129.2" x2="483.14" y2="131.2" stroke="#111" stroke-width="0.9"/>
<text x="483.14" y="137.9" font-size="7.2" fill="#222" text-anchor="middle" stroke="#222" stroke-width="0.12">400</text>
<line x1="501.83" y1="129.2" x2="501.83" y2="131.2" stroke="#111" stroke-width="0.9"/>
<text x="501.83" y="137.9" font-size="7.2" fill="#222" text-anchor="middle" stroke="#222" stroke-width="0.12">500</text>
<line x1="520.51" y1="129.2" x2="520.51" y2="131.2" stroke="#111" stroke-width="0.9"/>
<text x="520.51" y="137.9" font-size="7.2" fill="#222" text-anchor="middle" stroke="#222" stroke-width="0.12">600</text>
<line x1="539.2" y1="129.2" x2="539.2" y2="131.2" stroke="#111" stroke-width="0.9"/>
<text x="539.2" y="137.9" font-size="7.2" fill="#222" text-anchor="middle" stroke="#222" stroke-width="0.12">700</text>
<text x="378" y="25.6" font-size="12.5" stroke="#111" stroke-width="0.35">(c)</text>
<text x="388.5" y="83.6" font-size="10" text-anchor="middle" transform="rotate(-90 388.5 83.6)" textLength="98" lengthAdjust="spacingAndGlyphs" stroke="#111" stroke-width="0.3">Potential/v vs Ag/Agcl</text>
<text x="475.9" y="151.7" font-size="10.4" text-anchor="middle" textLength="32.8" lengthAdjust="spacingAndGlyphs" stroke="#111" stroke-width="0.3">Time/s</text>
<text x="454.7" y="103.7" font-size="8.5" textLength="35" lengthAdjust="spacingAndGlyphs" stroke="#111" stroke-width="0.22">CuSe-TiO<tspan dy="1.9" font-size="7">2</tspan></text>
<polyline points="408.21,122.2 408.21,108.2 408.43,107.49 408.82,106.21 409.32,104.58 409.92,102.7 410.6,100.61 411.35,98.37 412.17,96.01 413.05,93.56 413.98,91.05 414.97,88.49 416.01,85.91 417.09,83.32 418.23,80.74 419.4,78.18 420.62,75.65 421.89,73.17 423.19,70.73 424.53,68.35 425.91,66.04 427.32,63.79 428.77,61.62 430.26,59.52 431.78,57.5 433.33,55.55 434.92,53.69 436.53,51.91 438.18,50.21 439.86,48.59 441.58,47.06 443.32,45.59 445.09,44.21 446.88,42.9 448.71,41.67 450.57,40.5 452.45,39.4 454.36,38.37 456.29,37.41 458.26,36.5 460.24,35.65 462.26,34.86 464.3,34.12 466.36,33.43 468.45,32.79 470.56,32.19 472.7,31.64 474.86,31.13 477.05,30.65 479.26,30.21 481.49,29.81 483.74,29.43 486.02,29.08 488.32,28.77 490.64,28.47 492.98,28.2 495.35,27.96 497.74,27.73 500.15,27.52 502.58,27.33 505.03,27.16 507.5,27 508.29,37.36 509.09,45.04 509.88,51.95 510.67,58.4 511.47,64.54 512.26,70.44 513.05,76.14 513.85,81.68 514.64,87.08 515.44,92.36 516.23,97.54 517.02,102.63 517.82,107.63 518.61,112.55 519.4,117.41 520.2,122.2" fill="none" stroke="#1a1a1a" stroke-width="1.3" stroke-linejoin="round" stroke-linecap="round" />
<polyline points="408.21,106.1 408.27,104.86 408.38,102.81 408.52,100.52 408.69,98.22 408.88,96.06 409.09,94.08 409.32,92.3 409.57,90.7 409.83,89.25 410.1,87.91 410.39,86.65 410.7,85.44 411.02,84.26 411.34,83.1 411.69,81.94 412.04,80.77 412.4,79.59 412.78,78.41 413.16,77.21 413.56,75.99 413.97,74.76 414.38,73.52 414.81,72.27 415.24,71.01 415.69,69.75 416.14,68.47 416.6,67.19 417.07,65.91 417.55,64.62 418.04,63.33 418.53,62.04 419.04,60.75 419.55,59.46 420.07,58.17 420.59,56.89 421.13,55.61 421.67,54.33 422.22,53.06 422.77,51.8 423.34,50.54 423.91,49.29 424.49,48.04 425.07,46.81 425.66,45.58 426.26,44.37 426.87,43.16 427.48,41.97 428.1,40.78 428.72,39.61 429.35,38.45 429.99,37.3 430.63,36.17 431.28,35.04 431.94,33.93 432.6,32.84 433.27,31.75 433.94,30.68 434.62,29.63 435.31,28.59 436,27.56 436.51,37.86 437.02,45.49 437.54,52.36 438.05,58.78 438.56,64.88 439.07,70.74 439.59,76.41 440.1,81.92 440.61,87.29 441.12,92.54 441.64,97.69 442.15,102.74 442.66,107.72 443.17,112.61 443.69,117.44 444.2,122.2" fill="none" stroke="#ff2020" stroke-width="1.3" stroke-linejoin="round" stroke-linecap="round" />
<polyline points="408.21,106.1 408.25,104.9 408.31,102.92 408.39,100.69 408.49,98.45 408.6,96.33 408.73,94.38 408.86,92.62 409,91.01 409.15,89.54 409.31,88.18 409.48,86.89 409.66,85.65 409.85,84.43 410.04,83.22 410.24,82.02 410.44,80.81 410.65,79.59 410.87,78.36 411.1,77.12 411.33,75.86 411.56,74.6 411.81,73.32 412.05,72.03 412.31,70.74 412.57,69.44 412.83,68.13 413.1,66.82 413.37,65.51 413.65,64.2 413.94,62.89 414.22,61.58 414.52,60.27 414.82,58.96 415.12,57.66 415.42,56.37 415.74,55.08 416.05,53.8 416.37,52.52 416.7,51.26 417.02,50 417.36,48.75 417.69,47.52 418.03,46.29 418.38,45.08 418.73,43.88 419.08,42.69 419.44,41.51 419.8,40.35 420.16,39.2 420.53,38.07 420.9,36.95 421.27,35.84 421.65,34.75 422.03,33.68 422.42,32.62 422.81,31.58 423.2,30.55 423.6,29.54 424,28.54 424.4,27.56 424.81,37.86 425.22,45.49 425.64,52.36 426.05,58.78 426.46,64.88 426.87,70.74 427.29,76.41 427.7,81.92 428.11,87.29 428.52,92.54 428.94,97.69 429.35,102.74 429.76,107.72 430.17,112.61 430.59,117.44 431,122.2" fill="none" stroke="#a030e0" stroke-width="1.3" stroke-linejoin="round" stroke-linecap="round" />
<polyline points="408.21,106.1 408.24,104.9 408.28,102.92 408.34,100.69 408.4,98.45 408.48,96.33 408.56,94.38 408.65,92.62 408.75,91.01 408.85,89.54 408.96,88.18 409.08,86.89 409.2,85.65 409.32,84.43 409.45,83.22 409.59,82.02 409.73,80.81 409.87,79.59 410.02,78.36 410.17,77.12 410.33,75.86 410.49,74.6 410.65,73.32 410.82,72.03 410.99,70.74 411.17,69.44 411.35,68.13 411.53,66.82 411.72,65.51 411.9,64.2 412.1,62.89 412.29,61.58 412.49,60.27 412.69,58.96 412.9,57.66 413.11,56.37 413.32,55.08 413.53,53.8 413.75,52.52 413.97,51.26 414.19,50 414.42,48.75 414.65,47.52 414.88,46.29 415.11,45.08 415.35,43.88 415.59,42.69 415.83,41.51 416.07,40.35 416.32,39.2 416.57,38.07 416.82,36.95 417.08,35.84 417.33,34.75 417.59,33.68 417.86,32.62 418.12,31.58 418.39,30.55 418.66,29.54 418.93,28.54 419.2,27.56 419.54,37.86 419.89,45.49 420.23,52.36 420.57,58.78 420.92,64.88 421.26,70.74 421.61,76.41 421.95,81.92 422.29,87.29 422.64,92.54 422.98,97.69 423.32,102.74 423.67,107.72 424.01,112.61 424.36,117.44 424.7,122.2" fill="none" stroke="#2020ff" stroke-width="1.3" stroke-linejoin="round" stroke-linecap="round" />
<polyline points="408.21,106.1 408.23,104.9 408.26,102.92 408.3,100.69 408.34,98.45 408.4,96.33 408.45,94.38 408.52,92.62 408.58,91.01 408.65,89.54 408.73,88.18 408.81,86.89 408.89,85.65 408.98,84.43 409.07,83.22 409.16,82.02 409.26,80.81 409.36,79.59 409.46,78.36 409.57,77.12 409.67,75.86 409.78,74.6 409.9,73.32 410.01,72.03 410.13,70.74 410.25,69.44 410.38,68.13 410.5,66.82 410.63,65.51 410.76,64.2 410.9,62.89 411.03,61.58 411.17,60.27 411.31,58.96 411.45,57.66 411.59,56.37 411.74,55.08 411.89,53.8 412.04,52.52 412.19,51.26 412.34,50 412.5,48.75 412.66,47.52 412.82,46.29 412.98,45.08 413.14,43.88 413.31,42.69 413.47,41.51 413.64,40.35 413.81,39.2 413.98,38.07 414.16,36.95 414.33,35.84 414.51,34.75 414.69,33.68 414.87,32.62 415.05,31.58 415.24,30.55 415.42,29.54 415.61,28.54 415.8,27.56 416.07,37.86 416.35,45.49 416.62,52.36 416.9,58.78 417.17,64.88 417.45,70.74 417.72,76.41 418,81.92 418.27,87.29 418.55,92.54 418.82,97.69 419.1,102.74 419.37,107.72 419.65,112.61 419.92,117.44 420.2,122.2" fill="none" stroke="#ff8a30" stroke-width="1.3" stroke-linejoin="round" stroke-linecap="round" />
<polyline points="408.21,106.1 408.23,104.9 408.25,102.92 408.28,100.69 408.31,98.45 408.35,96.33 408.39,94.38 408.44,92.62 408.49,91.01 408.54,89.54 408.59,88.18 408.65,86.89 408.71,85.65 408.78,84.43 408.84,83.22 408.91,82.02 408.98,80.81 409.06,79.59 409.13,78.36 409.21,77.12 409.29,75.86 409.37,74.6 409.45,73.32 409.54,72.03 409.63,70.74 409.72,69.44 409.81,68.13 409.9,66.82 409.99,65.51 410.09,64.2 410.19,62.89 410.29,61.58 410.39,60.27 410.49,58.96 410.6,57.66 410.7,56.37 410.81,55.08 410.92,53.8 411.03,52.52 411.14,51.26 411.25,50 411.37,48.75 411.49,47.52 411.6,46.29 411.72,45.08 411.84,43.88 411.96,42.69 412.09,41.51 412.21,40.35 412.34,39.2 412.46,38.07 412.59,36.95 412.72,35.84 412.85,34.75 412.98,33.68 413.12,32.62 413.25,31.58 413.39,30.55 413.52,29.54 413.66,28.54 413.8,27.56 414,37.86 414.2,45.49 414.4,52.36 414.6,58.78 414.8,64.88 415,70.74 415.2,76.41 415.4,81.92 415.6,87.29 415.8,92.54 416,97.69 416.2,102.74 416.4,107.72 416.6,112.61 416.8,117.44 417,122.2" fill="none" stroke="#e81515" stroke-width="1.3" stroke-linejoin="round" stroke-linecap="round" />
<line x1="505" y1="24.6" x2="518.5" y2="24.6" stroke="#1a1a1a" stroke-width="1.5"/>
<text x="520.4" y="26.9" font-size="6.7" fill="#222" textLength="15.17" lengthAdjust="spacingAndGlyphs" stroke="#222" stroke-width="0.08">1 A/g</text>
<line x1="505" y1="32.2" x2="518.5" y2="32.2" stroke="#ee2222" stroke-width="1.5"/>
<text x="520.4" y="34.5" font-size="6.7" fill="#222" textLength="15.17" lengthAdjust="spacingAndGlyphs" stroke="#222" stroke-width="0.08">3 A/g</text>
<line x1="505" y1="39.8" x2="518.5" y2="39.8" stroke="#aa33dd" stroke-width="1.5"/>
<text x="520.4" y="42.1" font-size="6.7" fill="#222" textLength="15.17" lengthAdjust="spacingAndGlyphs" stroke="#222" stroke-width="0.08">5 A/g</text>
<line x1="505" y1="47.4" x2="518.5" y2="47.4" stroke="#2222ff" stroke-width="1.5"/>
<text x="520.4" y="49.7" font-size="6.7" fill="#222" textLength="15.17" lengthAdjust="spacingAndGlyphs" stroke="#222" stroke-width="0.08">7 A/g</text>
<line x1="505" y1="55" x2="518.5" y2="55" stroke="#ff8c3a" stroke-width="1.5"/>
<text x="520.4" y="57.3" font-size="6.7" fill="#222" textLength="15.17" lengthAdjust="spacingAndGlyphs" stroke="#222" stroke-width="0.08">9 A/g</text>
<line x1="505" y1="62.6" x2="518.5" y2="62.6" stroke="#dd1111" stroke-width="1.5"/>
<text x="520.4" y="64.9" font-size="6.7" fill="#222" textLength="18.67" lengthAdjust="spacingAndGlyphs" stroke="#222" stroke-width="0.08">12 A/g</text>
<rect x="39.8" y="167.6" width="138.1" height="112.8" fill="none" stroke="#262626" stroke-width="1.4"/>
<line x1="39.8" y1="266.25" x2="38.6" y2="266.25" stroke="#111" stroke-width="0.8"/>
<line x1="39.8" y1="252.15" x2="38.6" y2="252.15" stroke="#111" stroke-width="0.8"/>
<line x1="39.8" y1="238.05" x2="38.6" y2="238.05" stroke="#111" stroke-width="0.8"/>
<line x1="39.8" y1="223.95" x2="38.6" y2="223.95" stroke="#111" stroke-width="0.8"/>
<line x1="39.8" y1="209.85" x2="38.6" y2="209.85" stroke="#111" stroke-width="0.8"/>
<line x1="39.8" y1="195.75" x2="38.6" y2="195.75" stroke="#111" stroke-width="0.8"/>
<line x1="39.8" y1="181.65" x2="38.6" y2="181.65" stroke="#111" stroke-width="0.8"/>
<line x1="39.8" y1="273.3" x2="37.8" y2="273.3" stroke="#111" stroke-width="0.9"/>
<text x="36.5" y="275.8" font-size="7.2" fill="#222" text-anchor="end" stroke="#222" stroke-width="0.12">0.0</text>
<line x1="39.8" y1="259.2" x2="37.8" y2="259.2" stroke="#111" stroke-width="0.9"/>
<text x="36.5" y="261.7" font-size="7.2" fill="#222" text-anchor="end" stroke="#222" stroke-width="0.12">0.1</text>
<line x1="39.8" y1="245.1" x2="37.8" y2="245.1" stroke="#111" stroke-width="0.9"/>
<text x="36.5" y="247.6" font-size="7.2" fill="#222" text-anchor="end" stroke="#222" stroke-width="0.12">0.2</text>
<line x1="39.8" y1="231" x2="37.8" y2="231" stroke="#111" stroke-width="0.9"/>
<text x="36.5" y="233.5" font-size="7.2" fill="#222" text-anchor="end" stroke="#222" stroke-width="0.12">0.3</text>
<line x1="39.8" y1="216.9" x2="37.8" y2="216.9" stroke="#111" stroke-width="0.9"/>
<text x="36.5" y="219.4" font-size="7.2" fill="#222" text-anchor="end" stroke="#222" stroke-width="0.12">0.4</text>
<line x1="39.8" y1="202.8" x2="37.8" y2="202.8" stroke="#111" stroke-width="0.9"/>
<text x="36.5" y="205.3" font-size="7.2" fill="#222" text-anchor="end" stroke="#222" stroke-width="0.12">0.5</text>
<line x1="39.8" y1="188.7" x2="37.8" y2="188.7" stroke="#111" stroke-width="0.9"/>
<text x="36.5" y="191.2" font-size="7.2" fill="#222" text-anchor="end" stroke="#222" stroke-width="0.12">0.6</text>
<line x1="39.8" y1="174.6" x2="37.8" y2="174.6" stroke="#111" stroke-width="0.9"/>
<text x="36.5" y="177.1" font-size="7.2" fill="#222" text-anchor="end" stroke="#222" stroke-width="0.12">0.7</text>
<line x1="49.55" y1="280.4" x2="49.55" y2="281.6" stroke="#111" stroke-width="0.8"/>
<line x1="67.85" y1="280.4" x2="67.85" y2="281.6" stroke="#111" stroke-width="0.8"/>
<line x1="86.15" y1="280.4" x2="86.15" y2="281.6" stroke="#111" stroke-width="0.8"/>
<line x1="104.45" y1="280.4" x2="104.45" y2="281.6" stroke="#111" stroke-width="0.8"/>
<line x1="122.75" y1="280.4" x2="122.75" y2="281.6" stroke="#111" stroke-width="0.8"/>
<line x1="141.05" y1="280.4" x2="141.05" y2="281.6" stroke="#111" stroke-width="0.8"/>
<line x1="159.35" y1="280.4" x2="159.35" y2="281.6" stroke="#111" stroke-width="0.8"/>
<line x1="177.65" y1="280.4" x2="177.65" y2="281.6" stroke="#111" stroke-width="0.8"/>
<line x1="40.4" y1="280.4" x2="40.4" y2="282.4" stroke="#111" stroke-width="0.9"/>
<text x="40.4" y="289.6" font-size="7.2" fill="#222" text-anchor="middle" stroke="#222" stroke-width="0.12">0</text>
<line x1="58.7" y1="280.4" x2="58.7" y2="282.4" stroke="#111" stroke-width="0.9"/>
<text x="58.7" y="289.6" font-size="7.2" fill="#222" text-anchor="middle" stroke="#222" stroke-width="0.12">200</text>
<line x1="77" y1="280.4" x2="77" y2="282.4" stroke="#111" stroke-width="0.9"/>
<text x="77" y="289.6" font-size="7.2" fill="#222" text-anchor="middle" stroke="#222" stroke-width="0.12">400</text>
<line x1="95.3" y1="280.4" x2="95.3" y2="282.4" stroke="#111" stroke-width="0.9"/>
<text x="95.3" y="289.6" font-size="7.2" fill="#222" text-anchor="middle" stroke="#222" stroke-width="0.12">600</text>
<line x1="113.6" y1="280.4" x2="113.6" y2="282.4" stroke="#111" stroke-width="0.9"/>
<text x="113.6" y="289.6" font-size="7.2" fill="#222" text-anchor="middle" stroke="#222" stroke-width="0.12">800</text>
<line x1="131.9" y1="280.4" x2="131.9" y2="282.4" stroke="#111" stroke-width="0.9"/>
<text x="131.9" y="289.6" font-size="7.2" fill="#222" text-anchor="middle" stroke="#222" stroke-width="0.12">1000</text>
<line x1="150.2" y1="280.4" x2="150.2" y2="282.4" stroke="#111" stroke-width="0.9"/>
<text x="150.2" y="289.6" font-size="7.2" fill="#222" text-anchor="middle" stroke="#222" stroke-width="0.12">1200</text>
<line x1="168.5" y1="280.4" x2="168.5" y2="282.4" stroke="#111" stroke-width="0.9"/>
<text x="168.5" y="289.6" font-size="7.2" fill="#222" text-anchor="middle" stroke="#222" stroke-width="0.12">1400</text>
<text x="8.7" y="174" font-size="12.5" stroke="#111" stroke-width="0.35">(d)</text>
<text x="20.2" y="239.2" font-size="10" text-anchor="middle" transform="rotate(-90 20.2 239.2)" textLength="100" lengthAdjust="spacingAndGlyphs" stroke="#111" stroke-width="0.3">Potential/v vs Ag/Agcl</text>
<text x="102.3" y="301" font-size="10.4" text-anchor="middle" textLength="33.6" lengthAdjust="spacingAndGlyphs" stroke="#111" stroke-width="0.3">Time/s</text>
<text x="84.6" y="266.3" font-size="8.2" textLength="51.2" lengthAdjust="spacingAndGlyphs" stroke="#111" stroke-width="0.22">CuSe-TiO<tspan dy="1.6" font-size="7.4">2</tspan><tspan dy="-1.6">-GO</tspan></text>
<polyline points="39.67,269.07 39.86,266.53 40.22,262.41 40.68,257.91 41.22,253.53 41.84,249.51 42.52,245.89 43.26,242.66 44.06,239.75 44.91,237.08 45.81,234.59 46.75,232.21 47.74,229.92 48.77,227.68 49.84,225.48 50.95,223.32 52.09,221.18 53.28,219.08 54.49,217.01 55.75,214.98 57.03,212.99 58.35,211.05 59.7,209.16 61.08,207.31 62.5,205.52 63.94,203.79 65.41,202.11 66.91,200.49 68.43,198.92 69.99,197.42 71.57,195.98 73.18,194.59 74.81,193.26 76.47,192 78.16,190.78 79.87,189.63 81.6,188.53 83.36,187.48 85.15,186.49 86.95,185.54 88.78,184.65 90.64,183.8 92.51,183 94.41,182.24 96.33,181.53 98.28,180.86 100.24,180.23 102.23,179.63 104.23,179.07 106.26,178.55 108.31,178.05 110.38,177.59 112.47,177.16 114.58,176.76 116.71,176.38 118.86,176.03 121.03,175.7 123.22,175.4 125.43,175.11 127.65,174.85 129.9,174.6 130.34,182.3 130.78,189.17 131.21,195.76 131.65,202.17 132.09,208.45 132.53,214.63 132.96,220.73 133.4,226.76 133.84,232.73 134.28,238.65 134.71,244.52 135.15,250.35 135.59,256.14 136.03,261.89 136.46,267.61 136.9,273.3" fill="none" stroke="#1a1a1a" stroke-width="1.3" stroke-linejoin="round" stroke-linecap="round" />
<polyline points="39.67,269.07 39.75,266.34 39.9,261.97 40.1,257.33 40.33,252.99 40.6,249.19 40.89,245.99 41.21,243.32 41.55,241.1 41.92,239.2 42.3,237.53 42.71,236.01 43.13,234.58 43.57,233.19 44.03,231.82 44.51,230.46 45,229.09 45.51,227.71 46.03,226.33 46.57,224.93 47.12,223.52 47.69,222.1 48.27,220.68 48.86,219.25 49.47,217.82 50.09,216.39 50.72,214.96 51.36,213.54 52.02,212.12 52.68,210.7 53.36,209.3 54.05,207.9 54.75,206.51 55.47,205.13 56.19,203.77 56.92,202.42 57.67,201.08 58.42,199.76 59.19,198.45 59.97,197.16 60.75,195.89 61.55,194.63 62.35,193.4 63.17,192.18 63.99,190.98 64.83,189.8 65.67,188.64 66.52,187.5 67.38,186.39 68.25,185.29 69.13,184.21 70.02,183.15 70.92,182.12 71.82,181.11 72.74,180.11 73.66,179.14 74.59,178.19 75.53,177.26 76.48,176.35 77.44,175.47 78.4,174.6 78.71,182.3 79.01,189.17 79.32,195.76 79.62,202.17 79.93,208.45 80.24,214.63 80.54,220.73 80.85,226.76 81.16,232.73 81.46,238.65 81.77,244.52 82.08,250.35 82.38,256.14 82.69,261.89 82.99,267.61 83.3,273.3" fill="none" stroke="#ff2020" stroke-width="1.3" stroke-linejoin="round" stroke-linecap="round" />
<polyline points="39.67,269.07 39.74,266.34 39.87,261.97 40.04,257.33 40.25,252.99 40.47,249.19 40.73,245.99 41,243.32 41.3,241.1 41.62,239.2 41.95,237.53 42.3,236.01 42.67,234.58 43.05,233.19 43.45,231.82 43.86,230.46 44.29,229.09 44.73,227.71 45.18,226.33 45.64,224.93 46.12,223.52 46.61,222.1 47.11,220.68 47.63,219.25 48.15,217.82 48.69,216.39 49.23,214.96 49.79,213.54 50.36,212.12 50.94,210.7 51.52,209.3 52.12,207.9 52.73,206.51 53.35,205.13 53.97,203.77 54.61,202.42 55.25,201.08 55.91,199.76 56.57,198.45 57.24,197.16 57.92,195.89 58.61,194.63 59.31,193.4 60.01,192.18 60.73,190.98 61.45,189.8 62.18,188.64 62.92,187.5 63.66,186.39 64.42,185.29 65.18,184.21 65.95,183.15 66.72,182.12 67.51,181.11 68.3,180.11 69.1,179.14 69.9,178.19 70.72,177.26 71.54,176.35 72.37,175.47 73.2,174.6 73.48,182.3 73.76,189.17 74.04,195.76 74.33,202.17 74.61,208.45 74.89,214.63 75.17,220.73 75.45,226.76 75.73,232.73 76.01,238.65 76.29,244.52 76.58,250.35 76.86,256.14 77.14,261.89 77.42,267.61 77.7,273.3" fill="none" stroke="#a040ee" stroke-width="1.3" stroke-linejoin="round" stroke-linecap="round" />
<polyline points="39.67,269.07 39.72,266.27 39.81,261.82 39.93,257.08 40.06,252.67 40.22,248.82 40.4,245.59 40.59,242.92 40.79,240.71 41.01,238.84 41.24,237.2 41.48,235.72 41.73,234.33 41.99,232.99 42.26,231.67 42.55,230.36 42.84,229.04 43.14,227.71 43.45,226.37 43.77,225.01 44.1,223.65 44.44,222.27 44.78,220.89 45.13,219.5 45.49,218.11 45.86,216.71 46.24,215.32 46.62,213.92 47.01,212.53 47.41,211.14 47.81,209.75 48.22,208.37 48.64,207 49.06,205.64 49.49,204.29 49.93,202.95 50.37,201.62 50.82,200.3 51.28,198.99 51.74,197.7 52.21,196.42 52.68,195.16 53.16,193.92 53.64,192.69 54.13,191.47 54.63,190.28 55.13,189.1 55.64,187.94 56.15,186.8 56.67,185.68 57.19,184.57 57.72,183.49 58.25,182.42 58.79,181.38 59.33,180.35 59.88,179.34 60.44,178.36 60.99,177.39 61.56,176.44 62.13,175.51 62.7,174.6 62.98,182.3 63.26,189.17 63.54,195.76 63.83,202.17 64.11,208.45 64.39,214.63 64.67,220.73 64.95,226.76 65.23,232.73 65.51,238.65 65.79,244.52 66.08,250.35 66.36,256.14 66.64,261.89 66.92,267.61 67.2,273.3" fill="none" stroke="#2a50ff" stroke-width="1.3" stroke-linejoin="round" stroke-linecap="round" />
<polyline points="39.67,269.07 39.71,266.27 39.77,261.82 39.86,257.08 39.97,252.67 40.09,248.82 40.22,245.59 40.36,242.92 40.52,240.71 40.68,238.84 40.85,237.2 41.04,235.72 41.23,234.33 41.43,232.99 41.63,231.67 41.85,230.36 42.07,229.04 42.3,227.71 42.53,226.37 42.77,225.01 43.02,223.65 43.28,222.27 43.54,220.89 43.81,219.5 44.08,218.11 44.36,216.71 44.64,215.32 44.93,213.92 45.23,212.53 45.53,211.14 45.83,209.75 46.14,208.37 46.46,207 46.78,205.64 47.1,204.29 47.43,202.95 47.77,201.62 48.11,200.3 48.45,198.99 48.8,197.7 49.16,196.42 49.51,195.16 49.88,193.92 50.24,192.69 50.62,191.47 50.99,190.28 51.37,189.1 51.75,187.94 52.14,186.8 52.53,185.68 52.93,184.57 53.33,183.49 53.73,182.42 54.14,181.38 54.55,180.35 54.97,179.34 55.39,178.36 55.81,177.39 56.24,176.44 56.67,175.51 57.1,174.6 57.33,182.3 57.56,189.17 57.79,195.76 58.03,202.17 58.26,208.45 58.49,214.63 58.72,220.73 58.95,226.76 59.18,232.73 59.41,238.65 59.64,244.52 59.88,250.35 60.11,256.14 60.34,261.89 60.57,267.61 60.8,273.3" fill="none" stroke="#ff9040" stroke-width="1.3" stroke-linejoin="round" stroke-linecap="round" />
<polyline points="39.67,269.07 39.7,266.27 39.76,261.82 39.83,257.08 39.92,252.67 40.02,248.82 40.12,245.59 40.24,242.92 40.37,240.71 40.51,238.84 40.65,237.2 40.8,235.72 40.96,234.33 41.12,232.99 41.29,231.67 41.47,230.36 41.66,229.04 41.84,227.71 42.04,226.37 42.24,225.01 42.45,223.65 42.66,222.27 42.87,220.89 43.09,219.5 43.32,218.11 43.55,216.71 43.78,215.32 44.02,213.92 44.27,212.53 44.52,211.14 44.77,209.75 45.03,208.37 45.29,207 45.55,205.64 45.82,204.29 46.1,202.95 46.38,201.62 46.66,200.3 46.94,198.99 47.23,197.7 47.52,196.42 47.82,195.16 48.12,193.92 48.42,192.69 48.73,191.47 49.04,190.28 49.36,189.1 49.67,187.94 49.99,186.8 50.32,185.68 50.65,184.57 50.98,183.49 51.31,182.42 51.65,181.38 51.99,180.35 52.33,179.34 52.68,178.36 53.03,177.39 53.38,176.44 53.74,175.51 54.1,174.6 54.28,182.3 54.45,189.17 54.62,195.76 54.8,202.17 54.98,208.45 55.15,214.63 55.33,220.73 55.5,226.76 55.67,232.73 55.85,238.65 56.02,244.52 56.2,250.35 56.38,256.14 56.55,261.89 56.73,267.61 56.9,273.3" fill="none" stroke="#8b1a1a" stroke-width="1.3" stroke-linejoin="round" stroke-linecap="round" />
<line x1="140.6" y1="174.4" x2="155.2" y2="174.4" stroke="#1a1a1a" stroke-width="1.5"/>
<text x="156.3" y="176.7" font-size="6.7" fill="#222" textLength="15.17" lengthAdjust="spacingAndGlyphs" stroke="#222" stroke-width="0.08">1 A/g</text>
<line x1="140.6" y1="182.2" x2="155.2" y2="182.2" stroke="#ff3333" stroke-width="1.5"/>
<text x="156.3" y="184.5" font-size="6.7" fill="#222" textLength="15.17" lengthAdjust="spacingAndGlyphs" stroke="#222" stroke-width="0.08">3 A/g</text>
<line x1="140.6" y1="190" x2="155.2" y2="190" stroke="#aa44ee" stroke-width="1.5"/>
<text x="156.3" y="192.3" font-size="6.7" fill="#222" textLength="15.17" lengthAdjust="spacingAndGlyphs" stroke="#222" stroke-width="0.08">5 A/g</text>
<line x1="140.6" y1="197.8" x2="155.2" y2="197.8" stroke="#3366ff" stroke-width="1.5"/>
<text x="156.3" y="200.1" font-size="6.7" fill="#222" textLength="15.17" lengthAdjust="spacingAndGlyphs" stroke="#222" stroke-width="0.08">7 A/g</text>
<line x1="140.6" y1="205.6" x2="155.2" y2="205.6" stroke="#ff9944" stroke-width="1.5"/>
<text x="156.3" y="207.9" font-size="6.7" fill="#222" textLength="15.17" lengthAdjust="spacingAndGlyphs" stroke="#222" stroke-width="0.08">9 A/g</text>
<line x1="140.6" y1="213.4" x2="155.2" y2="213.4" stroke="#8b1a1a" stroke-width="1.5"/>
<text x="156.3" y="215.7" font-size="6.7" fill="#222" textLength="18.67" lengthAdjust="spacingAndGlyphs" stroke="#222" stroke-width="0.08">12 A/g</text>
<rect x="223.7" y="168.9" width="142.3" height="111.4" fill="none" stroke="#262626" stroke-width="1.4"/>
<line x1="223.7" y1="274.73" x2="222.5" y2="274.73" stroke="#111" stroke-width="0.8"/>
<line x1="223.7" y1="264.19" x2="222.5" y2="264.19" stroke="#111" stroke-width="0.8"/>
<line x1="223.7" y1="253.65" x2="222.5" y2="253.65" stroke="#111" stroke-width="0.8"/>
<line x1="223.7" y1="243.11" x2="222.5" y2="243.11" stroke="#111" stroke-width="0.8"/>
<line x1="223.7" y1="232.57" x2="222.5" y2="232.57" stroke="#111" stroke-width="0.8"/>
<line x1="223.7" y1="222.03" x2="222.5" y2="222.03" stroke="#111" stroke-width="0.8"/>
<line x1="223.7" y1="211.49" x2="222.5" y2="211.49" stroke="#111" stroke-width="0.8"/>
<line x1="223.7" y1="200.95" x2="222.5" y2="200.95" stroke="#111" stroke-width="0.8"/>
<line x1="223.7" y1="190.41" x2="222.5" y2="190.41" stroke="#111" stroke-width="0.8"/>
<line x1="223.7" y1="179.87" x2="222.5" y2="179.87" stroke="#111" stroke-width="0.8"/>
<line x1="223.7" y1="280" x2="221.7" y2="280" stroke="#111" stroke-width="0.9"/>
<text x="220.9" y="281.9" font-size="7.2" fill="#222" text-anchor="end" stroke="#222" stroke-width="0.12">120</text>
<line x1="223.7" y1="269.46" x2="221.7" y2="269.46" stroke="#111" stroke-width="0.9"/>
<text x="220.9" y="271.36" font-size="7.2" fill="#222" text-anchor="end" stroke="#222" stroke-width="0.12">140</text>
<line x1="223.7" y1="258.92" x2="221.7" y2="258.92" stroke="#111" stroke-width="0.9"/>
<text x="220.9" y="260.82" font-size="7.2" fill="#222" text-anchor="end" stroke="#222" stroke-width="0.12">160</text>
<line x1="223.7" y1="248.38" x2="221.7" y2="248.38" stroke="#111" stroke-width="0.9"/>
<text x="220.9" y="250.28" font-size="7.2" fill="#222" text-anchor="end" stroke="#222" stroke-width="0.12">180</text>
<line x1="223.7" y1="237.84" x2="221.7" y2="237.84" stroke="#111" stroke-width="0.9"/>
<text x="220.9" y="239.74" font-size="7.2" fill="#222" text-anchor="end" stroke="#222" stroke-width="0.12">200</text>
<line x1="223.7" y1="227.3" x2="221.7" y2="227.3" stroke="#111" stroke-width="0.9"/>
<text x="220.9" y="229.2" font-size="7.2" fill="#222" text-anchor="end" stroke="#222" stroke-width="0.12">220</text>
<line x1="223.7" y1="216.76" x2="221.7" y2="216.76" stroke="#111" stroke-width="0.9"/>
<text x="220.9" y="218.66" font-size="7.2" fill="#222" text-anchor="end" stroke="#222" stroke-width="0.12">240</text>
<line x1="223.7" y1="206.22" x2="221.7" y2="206.22" stroke="#111" stroke-width="0.9"/>
<text x="220.9" y="208.12" font-size="7.2" fill="#222" text-anchor="end" stroke="#222" stroke-width="0.12">260</text>
<line x1="223.7" y1="195.68" x2="221.7" y2="195.68" stroke="#111" stroke-width="0.9"/>
<text x="220.9" y="197.58" font-size="7.2" fill="#222" text-anchor="end" stroke="#222" stroke-width="0.12">280</text>
<line x1="223.7" y1="185.14" x2="221.7" y2="185.14" stroke="#111" stroke-width="0.9"/>
<text x="220.9" y="187.04" font-size="7.2" fill="#222" text-anchor="end" stroke="#222" stroke-width="0.12">300</text>
<line x1="223.7" y1="174.6" x2="221.7" y2="174.6" stroke="#111" stroke-width="0.9"/>
<text x="220.9" y="176.5" font-size="7.2" fill="#222" text-anchor="end" stroke="#222" stroke-width="0.12">320</text>
<line x1="234.81" y1="280.3" x2="234.81" y2="281.5" stroke="#111" stroke-width="0.8"/>
<line x1="256.62" y1="280.3" x2="256.62" y2="281.5" stroke="#111" stroke-width="0.8"/>
<line x1="278.44" y1="280.3" x2="278.44" y2="281.5" stroke="#111" stroke-width="0.8"/>
<line x1="300.26" y1="280.3" x2="300.26" y2="281.5" stroke="#111" stroke-width="0.8"/>
<line x1="322.07" y1="280.3" x2="322.07" y2="281.5" stroke="#111" stroke-width="0.8"/>
<line x1="343.89" y1="280.3" x2="343.89" y2="281.5" stroke="#111" stroke-width="0.8"/>
<line x1="223.9" y1="280.3" x2="223.9" y2="282.3" stroke="#111" stroke-width="0.9"/>
<text x="223.9" y="289.7" font-size="7.2" fill="#222" text-anchor="middle" stroke="#222" stroke-width="0.12">0</text>
<line x1="245.72" y1="280.3" x2="245.72" y2="282.3" stroke="#111" stroke-width="0.9"/>
<text x="245.72" y="289.7" font-size="7.2" fill="#222" text-anchor="middle" stroke="#222" stroke-width="0.12">2</text>
<line x1="267.53" y1="280.3" x2="267.53" y2="282.3" stroke="#111" stroke-width="0.9"/>
<text x="267.53" y="289.7" font-size="7.2" fill="#222" text-anchor="middle" stroke="#222" stroke-width="0.12">4</text>
<line x1="289.35" y1="280.3" x2="289.35" y2="282.3" stroke="#111" stroke-width="0.9"/>
<text x="289.35" y="289.7" font-size="7.2" fill="#222" text-anchor="middle" stroke="#222" stroke-width="0.12">6</text>
<line x1="311.17" y1="280.3" x2="311.17" y2="282.3" stroke="#111" stroke-width="0.9"/>
<text x="311.17" y="289.7" font-size="7.2" fill="#222" text-anchor="middle" stroke="#222" stroke-width="0.12">8</text>
<line x1="332.98" y1="280.3" x2="332.98" y2="282.3" stroke="#111" stroke-width="0.9"/>
<text x="332.98" y="289.7" font-size="7.2" fill="#222" text-anchor="middle" stroke="#222" stroke-width="0.12">10</text>
<line x1="354.8" y1="280.3" x2="354.8" y2="282.3" stroke="#111" stroke-width="0.9"/>
<text x="354.8" y="289.7" font-size="7.2" fill="#222" text-anchor="middle" stroke="#222" stroke-width="0.12">12</text>
<text x="192.7" y="171.6" font-size="12.5" stroke="#111" stroke-width="0.35">(e)</text>
<text x="202.2" y="240.3" font-size="9.3" text-anchor="middle" transform="rotate(-90 202.2 240.3)" textLength="114.4" lengthAdjust="spacingAndGlyphs" stroke="#111" stroke-width="0.3">Specific capacitance (F/g)</text>
<text x="296.1" y="303.8" font-size="10.5" text-anchor="middle" textLength="104.8" lengthAdjust="spacingAndGlyphs" stroke="#111" stroke-width="0.3">Current density (A/g)</text>
<polyline points="234.81,179.87 256.62,193.05 278.44,224.67 300.26,249.43 322.07,258.39 354.8,272.1" fill="none" stroke="#111111" stroke-width="1.1" stroke-linejoin="round" stroke-linecap="round" />
<polygon points="234.81,175.27 235.94,178.31 239.18,178.45 236.65,180.47 237.51,183.59 234.81,181.8 232.1,183.59 232.97,180.47 230.43,178.45 233.67,178.31" fill="#111111"/>
<polygon points="256.62,188.45 257.76,191.48 261,191.62 258.46,193.64 259.33,196.77 256.62,194.98 253.92,196.77 254.79,193.64 252.25,191.62 255.49,191.48" fill="#111111"/>
<polygon points="278.44,220.07 279.58,223.1 282.82,223.24 280.28,225.26 281.15,228.39 278.44,226.6 275.74,228.39 276.6,225.26 274.07,223.24 277.31,223.1" fill="#111111"/>
<polygon points="300.26,244.83 301.39,247.87 304.63,248.01 302.1,250.03 302.96,253.16 300.26,251.37 297.55,253.16 298.42,250.03 295.88,248.01 299.12,247.87" fill="#111111"/>
<polygon points="322.07,253.79 323.21,256.83 326.45,256.97 323.91,258.99 324.78,262.11 322.07,260.33 319.37,262.11 320.24,258.99 317.7,256.97 320.94,256.83" fill="#111111"/>
<polygon points="354.8,267.5 355.94,270.53 359.17,270.67 356.64,272.69 357.5,275.82 354.8,274.03 352.1,275.82 352.96,272.69 350.43,270.67 353.66,270.53" fill="#111111"/>
<polyline points="234.81,261.03 256.62,263.14 278.44,265.24 300.26,269.99 322.07,273.15 354.8,277.37" fill="none" stroke="#22dd22" stroke-width="1.1" stroke-linejoin="round" stroke-linecap="round" />
<polygon points="234.81,256.43 235.94,259.46 239.18,259.61 236.65,261.63 237.51,264.75 234.81,262.96 232.1,264.75 232.97,261.63 230.43,259.61 233.67,259.46" fill="#118811"/>
<polygon points="256.62,258.54 257.76,261.57 261,261.71 258.46,263.73 259.33,266.86 256.62,265.07 253.92,266.86 254.79,263.73 252.25,261.71 255.49,261.57" fill="#118811"/>
<polygon points="278.44,260.64 279.58,263.68 282.82,263.82 280.28,265.84 281.15,268.97 278.44,267.18 275.74,268.97 276.6,265.84 274.07,263.82 277.31,263.68" fill="#118811"/>
<polygon points="300.26,265.39 301.39,268.42 304.63,268.57 302.1,270.58 302.96,273.71 300.26,271.92 297.55,273.71 298.42,270.58 295.88,268.57 299.12,268.42" fill="#118811"/>
<polygon points="322.07,268.55 323.21,271.59 326.45,271.73 323.91,273.75 324.78,276.87 322.07,275.08 319.37,276.87 320.24,273.75 317.7,271.73 320.94,271.59" fill="#118811"/>
<polygon points="354.8,272.76 355.94,275.8 359.17,275.94 356.64,277.96 357.5,281.09 354.8,279.3 352.1,281.09 352.96,277.96 350.43,275.94 353.66,275.8" fill="#118811"/>
<polyline points="234.81,246.27 256.62,255.23 278.44,261.03 300.26,264.19 322.07,265.77 354.8,272.1" fill="none" stroke="#ff3030" stroke-width="1.1" stroke-linejoin="round" stroke-linecap="round" />
<polygon points="234.81,241.67 235.94,244.71 239.18,244.85 236.65,246.87 237.51,249.99 234.81,248.2 232.1,249.99 232.97,246.87 230.43,244.85 233.67,244.71" fill="#ff1a1a"/>
<polygon points="256.62,250.63 257.76,253.67 261,253.81 258.46,255.83 259.33,258.95 256.62,257.16 253.92,258.95 254.79,255.83 252.25,253.81 255.49,253.67" fill="#ff1a1a"/>
<polygon points="278.44,256.43 279.58,259.46 282.82,259.61 280.28,261.63 281.15,264.75 278.44,262.96 275.74,264.75 276.6,261.63 274.07,259.61 277.31,259.46" fill="#ff1a1a"/>
<polygon points="300.26,259.59 301.39,262.63 304.63,262.77 302.1,264.79 302.96,267.91 300.26,266.12 297.55,267.91 298.42,264.79 295.88,262.77 299.12,262.63" fill="#ff1a1a"/>
<polygon points="322.07,261.17 323.21,264.21 326.45,264.35 323.91,266.37 324.78,269.49 322.07,267.7 319.37,269.49 320.24,266.37 317.7,264.35 320.94,264.21" fill="#ff1a1a"/>
<polygon points="354.8,267.5 355.94,270.53 359.17,270.67 356.64,272.69 357.5,275.82 354.8,274.03 352.1,275.82 352.96,272.69 350.43,270.67 353.66,270.53" fill="#ff1a1a"/>
<line x1="302.8" y1="179.2" x2="317.4" y2="179.2" stroke="#22dd22" stroke-width="1.1"/>
<polygon points="310.3,175.3 311.26,177.87 314.01,177.99 311.86,179.71 312.59,182.36 310.3,180.84 308.01,182.36 308.74,179.71 306.59,177.99 309.34,177.87" fill="#118811"/>
<text x="319.9" y="181.4" font-size="6.5" fill="#222" textLength="13" lengthAdjust="spacingAndGlyphs" stroke="#222" stroke-width="0.1">TiO<tspan dy="1.3" font-size="4.6">2</tspan></text>
<line x1="302.8" y1="188.85" x2="317.4" y2="188.85" stroke="#ff3030" stroke-width="1.1"/>
<polygon points="310.3,184.95 311.26,187.52 314.01,187.64 311.86,189.36 312.59,192.01 310.3,190.49 308.01,192.01 308.74,189.36 306.59,187.64 309.34,187.52" fill="#ff1a1a"/>
<text x="319.9" y="191.05" font-size="6.5" fill="#222" textLength="30.9" lengthAdjust="spacingAndGlyphs" stroke="#222" stroke-width="0.1">CuSe-TiO<tspan dy="1.3" font-size="4.6">2</tspan></text>
<line x1="302.8" y1="198.5" x2="317.4" y2="198.5" stroke="#111111" stroke-width="1.1"/>
<polygon points="310.3,194.6 311.26,197.17 314.01,197.29 311.86,199.01 312.59,201.66 310.3,200.14 308.01,201.66 308.74,199.01 306.59,197.29 309.34,197.17" fill="#111111"/>
<text x="319.9" y="200.7" font-size="6.5" fill="#222" textLength="42.6" lengthAdjust="spacingAndGlyphs" stroke="#222" stroke-width="0.1">CuSe-TiO<tspan dy="1.3" font-size="4.6">2</tspan><tspan dy="-1.3">-GO</tspan></text>
<rect x="405.5" y="167.2" width="134.7" height="114" fill="none" stroke="#262626" stroke-width="1.4"/>
<line x1="405.5" y1="263.32" x2="404.3" y2="263.32" stroke="#111" stroke-width="0.8"/>
<line x1="405.5" y1="241.96" x2="404.3" y2="241.96" stroke="#111" stroke-width="0.8"/>
<line x1="405.5" y1="220.6" x2="404.3" y2="220.6" stroke="#111" stroke-width="0.8"/>
<line x1="405.5" y1="199.24" x2="404.3" y2="199.24" stroke="#111" stroke-width="0.8"/>
<line x1="405.5" y1="177.88" x2="404.3" y2="177.88" stroke="#111" stroke-width="0.8"/>
<line x1="405.5" y1="274" x2="403.5" y2="274" stroke="#111" stroke-width="0.9"/>
<text x="402.8" y="276.7" font-size="7.6" fill="#222" text-anchor="end" stroke="#222" stroke-width="0.12">0</text>
<line x1="405.5" y1="252.64" x2="403.5" y2="252.64" stroke="#111" stroke-width="0.9"/>
<text x="402.8" y="255.34" font-size="7.6" fill="#222" text-anchor="end" stroke="#222" stroke-width="0.12">3</text>
<line x1="405.5" y1="231.28" x2="403.5" y2="231.28" stroke="#111" stroke-width="0.9"/>
<text x="402.8" y="233.98" font-size="7.6" fill="#222" text-anchor="end" stroke="#222" stroke-width="0.12">6</text>
<line x1="405.5" y1="209.92" x2="403.5" y2="209.92" stroke="#111" stroke-width="0.9"/>
<text x="402.8" y="212.62" font-size="7.6" fill="#222" text-anchor="end" stroke="#222" stroke-width="0.12">9</text>
<line x1="405.5" y1="188.56" x2="403.5" y2="188.56" stroke="#111" stroke-width="0.9"/>
<text x="402.8" y="191.26" font-size="7.6" fill="#222" text-anchor="end" stroke="#222" stroke-width="0.12">12</text>
<line x1="405.5" y1="167.2" x2="403.5" y2="167.2" stroke="#111" stroke-width="0.9"/>
<text x="402.8" y="169.9" font-size="7.6" fill="#222" text-anchor="end" stroke="#222" stroke-width="0.12">15</text>
<line x1="421.94" y1="281.2" x2="421.94" y2="282.4" stroke="#111" stroke-width="0.8"/>
<line x1="448.22" y1="281.2" x2="448.22" y2="282.4" stroke="#111" stroke-width="0.8"/>
<line x1="474.5" y1="281.2" x2="474.5" y2="282.4" stroke="#111" stroke-width="0.8"/>
<line x1="500.78" y1="281.2" x2="500.78" y2="282.4" stroke="#111" stroke-width="0.8"/>
<line x1="527.06" y1="281.2" x2="527.06" y2="282.4" stroke="#111" stroke-width="0.8"/>
<line x1="408.8" y1="281.2" x2="408.8" y2="283.2" stroke="#111" stroke-width="0.9"/>
<text x="408.8" y="290.5" font-size="7.6" fill="#222" text-anchor="middle" stroke="#222" stroke-width="0.12">0</text>
<line x1="435.08" y1="281.2" x2="435.08" y2="283.2" stroke="#111" stroke-width="0.9"/>
<text x="435.08" y="290.5" font-size="7.6" fill="#222" text-anchor="middle" stroke="#222" stroke-width="0.12">4</text>
<line x1="461.36" y1="281.2" x2="461.36" y2="283.2" stroke="#111" stroke-width="0.9"/>
<text x="461.36" y="290.5" font-size="7.6" fill="#222" text-anchor="middle" stroke="#222" stroke-width="0.12">8</text>
<line x1="487.64" y1="281.2" x2="487.64" y2="283.2" stroke="#111" stroke-width="0.9"/>
<text x="487.64" y="290.5" font-size="7.6" fill="#222" text-anchor="middle" stroke="#222" stroke-width="0.12">12</text>
<line x1="513.92" y1="281.2" x2="513.92" y2="283.2" stroke="#111" stroke-width="0.9"/>
<text x="513.92" y="290.5" font-size="7.6" fill="#222" text-anchor="middle" stroke="#222" stroke-width="0.12">16</text>
<line x1="540.2" y1="281.2" x2="540.2" y2="283.2" stroke="#111" stroke-width="0.9"/>
<text x="540.2" y="290.5" font-size="7.6" fill="#222" text-anchor="middle" stroke="#222" stroke-width="0.12">20</text>
<text x="381.9" y="177.8" font-size="12.5" stroke="#111" stroke-width="0.35">(f)</text>
<text x="390.2" y="221.8" font-size="10" text-anchor="middle" transform="rotate(-90 390.2 221.8)" textLength="50" lengthAdjust="spacingAndGlyphs" stroke="#111" stroke-width="0.3">-Z'' /Ohm</text>
<text x="468.3" y="304.7" font-size="10.5" text-anchor="middle" textLength="36.7" lengthAdjust="spacingAndGlyphs" stroke="#111" stroke-width="0.3">Z'/Ohm</text>
<polyline points="411.49,273.43 411.65,273.21 411.84,272.92 412.07,272.58 412.33,272.19 412.61,271.78 412.9,271.35 413.2,270.92 413.5,270.5 413.79,270.09 414.06,269.73 414.31,269.39 414.56,269.06 414.8,268.75 415.05,268.43 415.3,268.13 415.55,267.82 415.81,267.51 416.09,267.19 416.38,266.86 416.68,266.52 417.01,266.17 417.35,265.81 417.69,265.43 418.05,265.05 418.43,264.66 418.81,264.28 419.2,263.9 419.6,263.53 420.01,263.17 420.43,262.82 420.87,262.48 421.33,262.14 421.81,261.8 422.3,261.47 422.8,261.15 423.3,260.84 423.79,260.54 424.27,260.26 424.73,260 425.16,259.76 425.57,259.55 425.95,259.36 426.33,259.2 426.69,259.06 427.04,258.92 427.38,258.8 427.72,258.69 428.07,258.57 428.42,258.46 428.77,258.34 429.13,258.21 429.49,258.1 429.84,257.99 430.19,257.88 430.55,257.78 430.9,257.67 431.26,257.57 431.63,257.47 432,257.37 432.39,257.27 432.78,257.16 433.18,257.06 433.58,256.95 433.99,256.84 434.4,256.74 434.82,256.64 435.24,256.54 435.67,256.44 436.1,256.35 436.53,256.27 436.96,256.19 437.4,256.12 437.84,256.05 438.29,255.99 438.74,255.93 439.19,255.87 439.64,255.82 440.09,255.78 440.54,255.74 440.99,255.7 441.44,255.67 441.88,255.65 442.33,255.63 442.77,255.61 443.21,255.6 443.65,255.6 444.1,255.6 444.55,255.6 445,255.62 445.46,255.63 445.92,255.65 446.39,255.68 446.85,255.72 447.32,255.76 447.79,255.8 448.27,255.85 448.74,255.9 449.22,255.95 449.71,256 450.19,256.06 450.67,256.11 451.15,256.17 451.63,256.23 452.11,256.28 452.6,256.35 453.09,256.41 453.59,256.48 454.11,256.55 454.64,256.62 455.18,256.7 455.77,256.78 456.38,256.86 457.03,256.95 457.69,257.03 458.36,257.13 459.02,257.22 459.66,257.32 460.27,257.42 460.84,257.52 461.36,257.62 461.83,257.73 462.25,257.85 462.64,257.96 463,258.08 463.34,258.2 463.66,258.33 463.98,258.45 464.3,258.58 464.63,258.71 464.97,258.83 465.33,258.96 465.68,259.09 466.03,259.23 466.37,259.36 466.72,259.49 467.06,259.63 467.41,259.77 467.76,259.91 468.11,260.05 468.46,260.19 468.81,260.33 469.16,260.49 469.52,260.64 469.87,260.8 470.23,260.96 470.59,261.12 470.94,261.27 471.3,261.42 471.65,261.56 472,261.68 472.35,261.8 472.7,261.91 473.04,262 473.39,262.1 473.73,262.19 474.07,262.27 474.42,262.35 474.77,262.44 475.12,262.52 475.49,262.61 475.85,262.7 476.22,262.8 476.58,262.89 476.95,262.99 477.33,263.09 477.7,263.18 478.09,263.27 478.48,263.34 478.88,263.41 479.3,263.46 479.72,263.51 480.16,263.56 480.6,263.6 481.06,263.63 481.52,263.66 481.98,263.67 482.45,263.67 482.91,263.65 483.37,263.6 483.83,263.53 484.29,263.44 484.76,263.31 485.23,263.17 485.7,263 486.17,262.82 486.64,262.63 487.09,262.43 487.54,262.23 487.96,262.02 488.36,261.82 488.74,261.63 489.1,261.42 489.44,261.21 489.76,261 490.08,260.78 490.38,260.56 490.69,260.33 491,260.1 491.32,259.86 491.65,259.62 491.99,259.36 492.34,259.1 492.7,258.82 493.06,258.54 493.41,258.26 493.77,257.98 494.11,257.7 494.45,257.42 494.76,257.16 495.06,256.91 495.34,256.68 495.61,256.46 495.86,256.25 496.1,256.04 496.32,255.84 496.55,255.64 496.77,255.44 496.99,255.23 497.21,255.01 497.43,254.78 497.66,254.52 497.91,254.23 498.16,253.92 498.41,253.6 498.66,253.29 498.9,252.99 499.11,252.7 499.31,252.45 499.47,252.23 499.6,252.07 504.66,244.52 509.19,236.41 515.89,225.23 525.61,208.99" fill="none" stroke="#8a8aa0" stroke-width="0.5" stroke-linejoin="round" stroke-linecap="round" />
<rect x="410.34" y="272.28" width="2.3" height="2.3" fill="#12126e"/>
<rect x="412.38" y="269.31" width="2.3" height="2.3" fill="#12126e"/>
<rect x="414.57" y="266.46" width="2.3" height="2.3" fill="#12126e"/>
<rect x="417" y="263.8" width="2.3" height="2.3" fill="#12126e"/>
<rect x="419.66" y="261.38" width="2.3" height="2.3" fill="#12126e"/>
<rect x="422.65" y="259.38" width="2.3" height="2.3" fill="#12126e"/>
<rect x="425.87" y="257.78" width="2.3" height="2.3" fill="#12126e"/>
<rect x="429.29" y="256.66" width="2.3" height="2.3" fill="#12126e"/>
<rect x="432.76" y="255.71" width="2.3" height="2.3" fill="#12126e"/>
<rect x="436.28" y="254.97" width="2.3" height="2.3" fill="#12126e"/>
<rect x="439.86" y="254.55" width="2.3" height="2.3" fill="#12126e"/>
<rect x="443.46" y="254.46" width="2.3" height="2.3" fill="#12126e"/>
<rect x="447.05" y="254.69" width="2.3" height="2.3" fill="#12126e"/>
<rect x="450.62" y="255.09" width="2.3" height="2.3" fill="#12126e"/>
<rect x="454.19" y="255.57" width="2.3" height="2.3" fill="#12126e"/>
<rect x="457.76" y="256.05" width="2.3" height="2.3" fill="#12126e"/>
<rect x="461.29" y="256.75" width="2.3" height="2.3" fill="#12126e"/>
<rect x="464.66" y="258" width="2.3" height="2.3" fill="#12126e"/>
<rect x="468.01" y="259.33" width="2.3" height="2.3" fill="#12126e"/>
<rect x="471.34" y="260.69" width="2.3" height="2.3" fill="#12126e"/>
<rect x="474.83" y="261.58" width="2.3" height="2.3" fill="#12126e"/>
<rect x="478.34" y="262.33" width="2.3" height="2.3" fill="#12126e"/>
<rect x="481.93" y="262.48" width="2.3" height="2.3" fill="#12126e"/>
<rect x="485.39" y="261.52" width="2.3" height="2.3" fill="#12126e"/>
<rect x="488.58" y="259.87" width="2.3" height="2.3" fill="#12126e"/>
<rect x="491.47" y="257.73" width="2.3" height="2.3" fill="#12126e"/>
<rect x="494.27" y="255.46" width="2.3" height="2.3" fill="#12126e"/>
<rect x="496.85" y="252.97" width="2.3" height="2.3" fill="#12126e"/>
<rect x="503.51" y="243.37" width="2.3" height="2.3" fill="#12126e"/>
<rect x="508.04" y="235.26" width="2.3" height="2.3" fill="#12126e"/>
<rect x="514.74" y="224.08" width="2.3" height="2.3" fill="#12126e"/>
<rect x="524.46" y="207.84" width="2.3" height="2.3" fill="#12126e"/>
<polyline points="411.49,272.79 411.6,272.62 411.74,272.39 411.91,272.13 412.1,271.84 412.3,271.52 412.51,271.18 412.73,270.84 412.94,270.51 413.14,270.18 413.33,269.87 413.51,269.57 413.69,269.27 413.87,268.96 414.05,268.65 414.23,268.34 414.41,268.03 414.58,267.73 414.76,267.44 414.93,267.15 415.11,266.88 415.28,266.62 415.44,266.36 415.6,266.12 415.76,265.88 415.92,265.64 416.08,265.41 416.25,265.19 416.43,264.97 416.62,264.75 416.82,264.53 417.03,264.31 417.25,264.1 417.47,263.88 417.71,263.67 417.95,263.46 418.2,263.26 418.45,263.06 418.71,262.88 418.98,262.7 419.25,262.54 419.52,262.39 419.8,262.24 420.09,262.11 420.39,261.99 420.69,261.87 420.99,261.76 421.3,261.66 421.62,261.57 421.94,261.48 422.27,261.4 422.6,261.32 422.93,261.23 423.27,261.15 423.62,261.07 423.96,261 424.32,260.94 424.68,260.91 425.05,260.9 425.43,260.92 425.82,260.97 426.22,261.05 426.64,261.15 427.07,261.27 427.51,261.41 427.96,261.58 428.41,261.77 428.85,261.99 429.28,262.23 429.69,262.51 430.09,262.82 430.47,263.18 430.85,263.61 431.22,264.08 431.59,264.58 431.95,265.1 432.29,265.63 432.62,266.15 432.93,266.64 433.23,267.11 433.5,267.52 433.75,267.89 433.97,268.23 434.17,268.55 434.36,268.84 434.53,269.13 434.69,269.4 434.85,269.67 435,269.95 435.17,270.22 435.34,270.51 435.52,270.8 435.69,271.09 435.86,271.38 436.03,271.66 436.19,271.95 436.36,272.24 436.54,272.53 436.72,272.82 436.91,273.12 437.12,273.43 437.33,273.76 437.56,274.11 437.8,274.48 438.05,274.85 438.3,275.22 438.55,275.59 438.81,275.93 439.06,276.25 439.31,276.54 439.55,276.78 439.78,276.98 440,277.14 440.22,277.28 440.44,277.39 440.66,277.48 440.88,277.56 441.11,277.62 441.34,277.68 441.59,277.72 441.85,277.77 442.12,277.82 442.41,277.87 442.7,277.9 443,277.93 443.31,277.95 443.63,277.95 443.94,277.94 444.25,277.9 444.56,277.85 444.87,277.77 445.17,277.67 445.48,277.54 445.78,277.4 446.08,277.23 446.39,277.04 446.69,276.85 446.99,276.64 447.3,276.43 447.59,276.21 447.89,275.99 448.19,275.78 448.48,275.56 448.76,275.33 449.05,275.1 449.34,274.86 449.62,274.61 449.91,274.34 450.2,274.06 450.49,273.75 450.78,273.43 451.09,273.06 451.43,272.64 451.77,272.18 452.13,271.69 452.47,271.21 452.81,270.73 453.12,270.29 453.39,269.89 453.62,269.55 453.8,269.3 453.8,269.3 453.98,269.02 454.15,268.74 454.33,268.44 454.55,268.09 454.81,267.67 455.13,267.13 455.54,266.46 456.04,265.62 456.67,264.58 457.42,263.32 458.3,261.84 459.3,260.16 460.4,258.31 461.59,256.3 462.88,254.14 464.24,251.84 465.67,249.43 467.16,246.91 468.71,244.29 470.3,241.6 472.01,238.71 473.9,235.51 475.91,232.11 478.01,228.56 480.14,224.96 482.26,221.38 484.31,217.9 486.25,214.6 488.03,211.56 489.61,208.85 490.98,206.49 492.2,204.38 493.28,202.48 494.27,200.76 495.17,199.15 496.03,197.63 496.86,196.13 497.69,194.63 498.55,193.07 499.47,191.41 500.45,189.61 501.49,187.69 502.56,185.72 503.63,183.73 504.68,181.77 505.68,179.91 506.6,178.18 507.42,176.64 508.12,175.34 508.66,174.32" fill="none" stroke="#ff7070" stroke-width="0.5" stroke-linejoin="round" stroke-linecap="round" />
<circle cx="411.49" cy="272.79" r="1.45" fill="#ee0000"/>
<circle cx="413.1" cy="270.25" r="1.45" fill="#ee0000"/>
<circle cx="414.62" cy="267.67" r="1.45" fill="#ee0000"/>
<circle cx="416.27" cy="265.17" r="1.45" fill="#ee0000"/>
<circle cx="418.42" cy="263.08" r="1.45" fill="#ee0000"/>
<circle cx="421.08" cy="261.73" r="1.45" fill="#ee0000"/>
<circle cx="423.99" cy="260.99" r="1.45" fill="#ee0000"/>
<circle cx="426.95" cy="261.23" r="1.45" fill="#ee0000"/>
<circle cx="429.66" cy="262.49" r="1.45" fill="#ee0000"/>
<circle cx="431.67" cy="264.69" r="1.45" fill="#ee0000"/>
<circle cx="433.3" cy="267.21" r="1.45" fill="#ee0000"/>
<circle cx="434.89" cy="269.75" r="1.45" fill="#ee0000"/>
<circle cx="436.42" cy="272.33" r="1.45" fill="#ee0000"/>
<circle cx="438.05" cy="274.85" r="1.45" fill="#ee0000"/>
<circle cx="439.98" cy="277.12" r="1.45" fill="#ee0000"/>
<circle cx="442.84" cy="277.92" r="1.45" fill="#ee0000"/>
<circle cx="445.75" cy="277.41" r="1.45" fill="#ee0000"/>
<circle cx="448.24" cy="275.74" r="1.45" fill="#ee0000"/>
<circle cx="450.49" cy="273.76" r="1.45" fill="#ee0000"/>
<circle cx="452.34" cy="271.4" r="1.45" fill="#ee0000"/>
<circle cx="456.4" cy="265.03" r="1.45" fill="#ee0000"/>
<circle cx="458.96" cy="260.73" r="1.45" fill="#ee0000"/>
<circle cx="461.51" cy="256.43" r="1.45" fill="#ee0000"/>
<circle cx="464.06" cy="252.13" r="1.45" fill="#ee0000"/>
<circle cx="466.61" cy="247.83" r="1.45" fill="#ee0000"/>
<circle cx="469.16" cy="243.53" r="1.45" fill="#ee0000"/>
<circle cx="471.7" cy="239.22" r="1.45" fill="#ee0000"/>
<circle cx="474.25" cy="234.92" r="1.45" fill="#ee0000"/>
<circle cx="476.8" cy="230.62" r="1.45" fill="#ee0000"/>
<circle cx="479.34" cy="226.31" r="1.45" fill="#ee0000"/>
<circle cx="481.89" cy="222.01" r="1.45" fill="#ee0000"/>
<circle cx="484.42" cy="217.7" r="1.45" fill="#ee0000"/>
<circle cx="486.96" cy="213.39" r="1.45" fill="#ee0000"/>
<circle cx="489.48" cy="209.08" r="1.45" fill="#ee0000"/>
<circle cx="491.98" cy="204.75" r="1.45" fill="#ee0000"/>
<circle cx="494.46" cy="200.4" r="1.45" fill="#ee0000"/>
<circle cx="496.91" cy="196.04" r="1.45" fill="#ee0000"/>
<circle cx="499.32" cy="191.67" r="1.45" fill="#ee0000"/>
<circle cx="501.72" cy="187.28" r="1.45" fill="#ee0000"/>
<circle cx="504.09" cy="182.87" r="1.45" fill="#ee0000"/>
<circle cx="506.45" cy="178.47" r="1.45" fill="#ee0000"/>
<polyline points="412.09,273.43 412.2,273.27 412.34,273.07 412.51,272.84 412.69,272.57 412.9,272.28 413.12,271.98 413.34,271.67 413.58,271.37 413.82,271.07 414.06,270.8 414.3,270.52 414.56,270.23 414.83,269.93 415.12,269.63 415.4,269.33 415.69,269.04 415.98,268.77 416.27,268.51 416.55,268.29 416.82,268.09 417.08,267.93 417.33,267.79 417.59,267.68 417.84,267.59 418.09,267.51 418.34,267.45 418.58,267.39 418.83,267.34 419.07,267.29 419.31,267.24 419.55,267.18 419.8,267.13 420.04,267.09 420.27,267.05 420.51,267.01 420.75,266.99 420.98,266.97 421.21,266.95 421.45,266.95 421.68,266.95 421.9,266.96 422.13,266.99 422.35,267.02 422.57,267.06 422.79,267.1 423,267.15 423.23,267.21 423.45,267.26 423.68,267.32 423.91,267.38 424.15,267.44 424.4,267.51 424.65,267.59 424.91,267.67 425.17,267.75 425.42,267.83 425.68,267.9 425.93,267.98 426.17,268.04 426.41,268.09 426.63,268.13 426.85,268.17 427.07,268.2 427.28,268.23 427.48,268.26 427.69,268.27 427.89,268.29 428.1,268.3 428.3,268.3 428.51,268.3 428.72,268.31 428.92,268.31 429.12,268.32 429.31,268.32 429.51,268.32 429.71,268.31 429.92,268.28 430.14,268.24 430.37,268.18 430.61,268.09 430.87,267.98 431.15,267.86 431.44,267.73 431.73,267.57 432.04,267.41 432.34,267.22 432.64,267.02 432.94,266.8 433.23,266.56 433.5,266.31 433.76,266.04 434.01,265.76 434.25,265.47 434.48,265.16 434.71,264.83 434.94,264.48 435.18,264.11 435.42,263.71 435.67,263.28 435.93,262.82 436.23,262.29 436.55,261.68 436.89,261 437.25,260.29 437.6,259.58 437.94,258.88 438.25,258.22 438.54,257.63 438.77,257.14 438.96,256.77 440.47,254.06 441.98,251.93 443.69,248.01 445.46,244.38 447.17,240.18 449.01,235.91 450.85,231.28 452.82,226.3" fill="none" stroke="#c8c0e8" stroke-width="0.5" stroke-linejoin="round" stroke-linecap="round" />
<polyline points="412.09,273.43 412.2,273.27 412.34,273.07 412.51,272.84 412.69,272.57 412.9,272.28 413.12,271.98 413.34,271.67 413.58,271.37 413.82,271.07 414.06,270.8 414.3,270.52 414.56,270.23 414.83,269.93 415.12,269.63 415.4,269.33 415.69,269.04 415.98,268.77 416.27,268.51 416.55,268.29 416.82,268.09 417.08,267.93 417.33,267.79 417.59,267.68 417.84,267.59 418.09,267.51 418.34,267.45 418.58,267.39 418.83,267.34 419.07,267.29 419.31,267.24 419.55,267.18 419.8,267.13 420.04,267.09 420.27,267.05 420.51,267.01 420.75,266.99 420.98,266.97 421.21,266.95 421.45,266.95 421.68,266.95 421.9,266.96 422.13,266.99 422.35,267.02 422.57,267.06 422.79,267.1 423,267.15 423.23,267.21 423.45,267.26 423.68,267.32 423.91,267.38 424.15,267.44 424.4,267.51 424.65,267.59 424.91,267.67 425.17,267.75 425.42,267.83 425.68,267.9 425.93,267.98 426.17,268.04 426.41,268.09 426.63,268.13 426.85,268.17 427.07,268.2 427.28,268.23 427.48,268.26 427.69,268.27 427.89,268.29 428.1,268.3 428.3,268.3 428.51,268.3 428.72,268.31 428.92,268.31 429.12,268.32 429.31,268.32 429.51,268.32 429.71,268.31 429.92,268.28 430.14,268.24 430.37,268.18 430.61,268.09 430.87,267.98 431.15,267.86 431.44,267.73 431.73,267.57 432.04,267.41 432.34,267.22 432.64,267.02 432.94,266.8 433.23,266.56 433.5,266.31 433.76,266.04 434.01,265.76 434.25,265.47 434.48,265.16 434.71,264.83 434.94,264.48 435.18,264.11 435.42,263.71 435.67,263.28 435.93,262.82 436.23,262.29 436.55,261.68 436.89,261 437.25,260.29 437.6,259.58 437.94,258.88 438.25,258.22 438.54,257.63 438.77,257.14 438.96,256.77" fill="none" stroke="#9a1ee0" stroke-width="2.0" stroke-linejoin="round" stroke-linecap="round" />
<polygon points="412.09,271.43 412.58,272.75 413.99,272.81 412.88,273.69 413.26,275.05 412.09,274.27 410.91,275.05 411.29,273.69 410.18,272.81 411.59,272.75" fill="#9a1ee0"/>
<polygon points="413.01,270.13 413.51,271.45 414.91,271.51 413.81,272.39 414.19,273.74 413.01,272.97 411.84,273.74 412.21,272.39 411.11,271.51 412.52,271.45" fill="#9a1ee0"/>
<polygon points="414,268.87 414.49,270.19 415.9,270.25 414.8,271.13 415.17,272.48 414,271.71 412.82,272.48 413.2,271.13 412.09,270.25 413.5,270.19" fill="#9a1ee0"/>
<polygon points="415.07,267.68 415.56,269 416.97,269.06 415.87,269.94 416.25,271.3 415.07,270.52 413.89,271.3 414.27,269.94 413.17,269.06 414.58,269" fill="#9a1ee0"/>
<polygon points="416.21,266.56 416.71,267.88 418.12,267.94 417.01,268.82 417.39,270.18 416.21,269.4 415.04,270.18 415.42,268.82 414.31,267.94 415.72,267.88" fill="#9a1ee0"/>
<polygon points="417.55,265.7 418.04,267.02 419.45,267.08 418.35,267.96 418.73,269.31 417.55,268.54 416.37,269.31 416.75,267.96 415.65,267.08 417.06,267.02" fill="#9a1ee0"/>
<polygon points="419.09,265.28 419.59,266.6 421,266.67 419.89,267.54 420.27,268.9 419.09,268.12 417.92,268.9 418.29,267.54 417.19,266.67 418.6,266.6" fill="#9a1ee0"/>
<polygon points="420.67,265 421.16,266.32 422.57,266.38 421.47,267.26 421.84,268.61 420.67,267.84 419.49,268.61 419.87,267.26 418.76,266.38 420.17,266.32" fill="#9a1ee0"/>
<polygon points="422.26,265.01 422.76,266.33 424.16,266.39 423.06,267.27 423.44,268.62 422.26,267.85 421.09,268.62 421.46,267.27 420.36,266.39 421.77,266.33" fill="#9a1ee0"/>
<polygon points="423.82,265.36 424.32,266.68 425.72,266.74 424.62,267.62 425,268.97 423.82,268.2 422.65,268.97 423.02,267.62 421.92,266.74 423.33,266.68" fill="#9a1ee0"/>
<polygon points="425.36,265.81 425.85,267.13 427.26,267.19 426.16,268.07 426.53,269.42 425.36,268.65 424.18,269.42 424.56,268.07 423.45,267.19 424.86,267.13" fill="#9a1ee0"/>
<polygon points="426.91,266.18 427.4,267.5 428.81,267.56 427.71,268.44 428.09,269.8 426.91,269.02 425.74,269.8 426.11,268.44 425.01,267.56 426.42,267.5" fill="#9a1ee0"/>
<polygon points="428.5,266.3 429,267.62 430.41,267.69 429.3,268.56 429.68,269.92 428.5,269.14 427.33,269.92 427.71,268.56 426.6,267.69 428.01,267.62" fill="#9a1ee0"/>
<polygon points="430.1,266.25 430.59,267.57 432,267.63 430.9,268.51 431.27,269.87 430.1,269.09 428.92,269.87 429.3,268.51 428.2,267.63 429.6,267.57" fill="#9a1ee0"/>
<polygon points="431.58,265.65 432.07,266.97 433.48,267.03 432.38,267.91 432.75,269.27 431.58,268.49 430.4,269.27 430.78,267.91 429.68,267.03 431.09,266.97" fill="#9a1ee0"/>
<polygon points="432.93,264.81 433.43,266.13 434.84,266.19 433.73,267.07 434.11,268.42 432.93,267.65 431.76,268.42 432.14,267.07 431.03,266.19 432.44,266.13" fill="#9a1ee0"/>
<polygon points="434.07,263.69 434.57,265.01 435.97,265.07 434.87,265.95 435.25,267.3 434.07,266.53 432.9,267.3 433.27,265.95 432.17,265.07 433.58,265.01" fill="#9a1ee0"/>
<polygon points="435,262.39 435.5,263.71 436.9,263.77 435.8,264.65 436.18,266 435,265.23 433.83,266 434.2,264.65 433.1,263.77 434.51,263.71" fill="#9a1ee0"/>
<polygon points="435.82,261.01 436.32,262.33 437.73,262.39 436.62,263.27 437,264.63 435.82,263.85 434.65,264.63 435.03,263.27 433.92,262.39 435.33,262.33" fill="#9a1ee0"/>
<polygon points="436.59,259.61 437.08,260.93 438.49,260.99 437.38,261.87 437.76,263.22 436.59,262.45 435.41,263.22 435.79,261.87 434.68,260.99 436.09,260.93" fill="#9a1ee0"/>
<polygon points="437.3,258.18 437.8,259.5 439.21,259.56 438.1,260.44 438.48,261.79 437.3,261.02 436.13,261.79 436.5,260.44 435.4,259.56 436.81,259.5" fill="#9a1ee0"/>
<polygon points="438,256.74 438.5,258.06 439.91,258.12 438.8,259 439.18,260.36 438,259.58 436.83,260.36 437.21,259 436.1,258.12 437.51,258.06" fill="#9a1ee0"/>
<polygon points="438.7,255.3 439.19,256.62 440.6,256.68 439.5,257.56 439.87,258.91 438.7,258.14 437.52,258.91 437.9,257.56 436.8,256.68 438.21,256.62" fill="#9a1ee0"/>
<polygon points="440.47,251.76 441.04,253.28 442.65,253.35 441.39,254.36 441.82,255.92 440.47,255.03 439.12,255.92 439.55,254.36 438.28,253.35 439.9,253.28" fill="#9a1ee0"/>
<polygon points="441.98,249.63 442.55,251.15 444.17,251.22 442.9,252.23 443.33,253.79 441.98,252.89 440.63,253.79 441.06,252.23 439.79,251.22 441.41,251.15" fill="#9a1ee0"/>
<polygon points="443.69,245.71 444.25,247.23 445.87,247.3 444.61,248.31 445.04,249.87 443.69,248.98 442.33,249.87 442.77,248.31 441.5,247.3 443.12,247.23" fill="#9a1ee0"/>
<polygon points="445.46,242.08 446.03,243.6 447.65,243.67 446.38,244.68 446.81,246.24 445.46,245.35 444.11,246.24 444.54,244.68 443.27,243.67 444.89,243.6" fill="#9a1ee0"/>
<polygon points="447.17,237.88 447.74,239.4 449.36,239.47 448.09,240.48 448.52,242.04 447.17,241.15 445.82,242.04 446.25,240.48 444.98,239.47 446.6,239.4" fill="#9a1ee0"/>
<polygon points="449.01,233.61 449.58,235.13 451.2,235.2 449.93,236.21 450.36,237.77 449.01,236.87 447.66,237.77 448.09,236.21 446.82,235.2 448.44,235.13" fill="#9a1ee0"/>
<polygon points="450.85,228.98 451.42,230.5 453.04,230.57 451.77,231.58 452.2,233.14 450.85,232.25 449.5,233.14 449.93,231.58 448.66,230.57 450.28,230.5" fill="#9a1ee0"/>
<polygon points="452.82,224 453.39,225.51 455.01,225.59 453.74,226.59 454.17,228.16 452.82,227.26 451.47,228.16 451.9,226.59 450.63,225.59 452.25,225.51" fill="#9a1ee0"/>
<line x1="411.7" y1="175.4" x2="426.5" y2="175.4" stroke="#a8a8b0" stroke-width="1.0"/>
<text x="428.4" y="177.6" font-size="6.6" fill="#222" textLength="13.6" lengthAdjust="spacingAndGlyphs" stroke="#222" stroke-width="0.1">TiO<tspan dy="1.3" font-size="4.6">2</tspan></text>
<line x1="411.7" y1="184.9" x2="426.5" y2="184.9" stroke="#ffa0a0" stroke-width="0.6"/>
<text x="428.4" y="187.1" font-size="6.6" fill="#222" textLength="32.1" lengthAdjust="spacingAndGlyphs" stroke="#222" stroke-width="0.1">CuSe-TiO<tspan dy="1.3" font-size="4.6">2</tspan></text>
<line x1="411.7" y1="194.3" x2="426.5" y2="194.3" stroke="#a8f0a8" stroke-width="0.6"/>
<text x="428.4" y="196.5" font-size="6.6" fill="#222" textLength="43.9" lengthAdjust="spacingAndGlyphs" stroke="#222" stroke-width="0.1">CuSe-TiO<tspan dy="1.3" font-size="4.6">2</tspan><tspan dy="-1.3">-GO</tspan></text>
<rect x="417.6" y="173.9" width="3" height="3" fill="#10106a"/>
<circle cx="419.1" cy="184.9" r="1.8" fill="#ee0000"/>
<polygon points="419.1,191.9 419.69,193.48 421.38,193.56 420.06,194.61 420.51,196.24 419.1,195.31 417.69,196.24 418.14,194.61 416.82,193.56 418.51,193.48" fill="#9a1ee0"/>
<line x1="412" y1="210.4" x2="420.1" y2="210.4" stroke="#111" stroke-width="0.9"/>
<polyline points="420.1,210.4 420.72,212.1 421.96,208.7 423.19,212.1 424.43,208.7 425.67,212.1 426.91,208.7 428.14,212.1 429.38,208.7 430,210.4" fill="none" stroke="#111" stroke-width="0.9" stroke-linejoin="round" stroke-linecap="round" />
<line x1="430" y1="210.4" x2="440.9" y2="210.4" stroke="#111" stroke-width="0.9"/>
<polyline points="440.9,210.4 441.46,212.1 442.59,208.7 443.71,212.1 444.84,208.7 445.96,212.1 447.09,208.7 448.21,212.1 449.34,208.7 449.9,210.4" fill="none" stroke="#111" stroke-width="0.9" stroke-linejoin="round" stroke-linecap="round" />
<line x1="449.9" y1="210.4" x2="460.1" y2="210.4" stroke="#111" stroke-width="0.9"/>
<polyline points="460.1,210.4 460.75,211.9 462.05,208.9 463.35,211.9 464.65,208.9 465.3,210.4" fill="none" stroke="#111" stroke-width="0.9" stroke-linejoin="round" stroke-linecap="round" />
<line x1="465.3" y1="210.4" x2="472.3" y2="210.4" stroke="#111" stroke-width="0.9"/>
<polyline points="436.4,210.4 436.4,220 445.6,220" fill="none" stroke="#111" stroke-width="0.9"/>
<polyline points="447.8,220 467.8,220 467.8,210.4" fill="none" stroke="#111" stroke-width="0.9"/>
<line x1="445.6" y1="218" x2="445.6" y2="222" stroke="#111" stroke-width="0.9"/>
<line x1="447.8" y1="218" x2="447.8" y2="222" stroke="#111" stroke-width="0.9"/>
<text x="427.4" y="206.2" font-size="5.6" fill="#2433c8" text-anchor="middle" font-style="italic" stroke="#2433c8" stroke-width="0.15">Rs</text>
<text x="444.6" y="206.2" font-size="5.6" fill="#2433c8" text-anchor="middle" font-style="italic" stroke="#2433c8" stroke-width="0.15">R<tspan font-size="4.6">ct</tspan></text>
<text x="465.3" y="206.2" font-size="5.6" fill="#2433c8" text-anchor="middle" font-style="italic" stroke="#2433c8" stroke-width="0.15">Wo</text>
<text x="447.3" y="217.6" font-size="5.6" fill="#2433c8" text-anchor="middle" font-style="italic" stroke="#2433c8" stroke-width="0.15">Cdl</text>
</g>
</svg>
</body></html>
